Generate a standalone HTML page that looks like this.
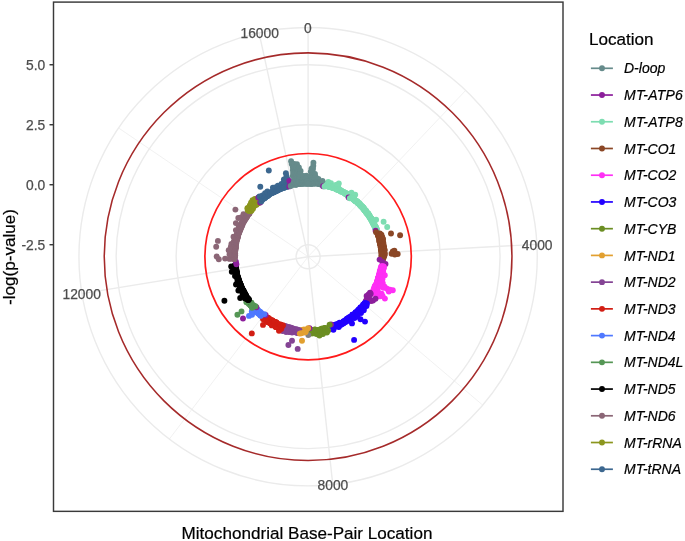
<!DOCTYPE html>
<html><head><meta charset="utf-8"><title>Mitochondrial plot</title>
<style>html,body{margin:0;padding:0;background:#fff}body{width:685px;height:541px;overflow:hidden}</style></head>
<body>
<svg width="685" height="541" viewBox="0 0 685 541" style="display:block">
<rect width="685" height="541" fill="#fff"/>
<g fill="none" stroke="#EBEBEB"><circle cx="308.1" cy="256.7" r="12.00" stroke-width="1.4"/><circle cx="308.1" cy="256.7" r="71.98" stroke-width="1.4"/><circle cx="308.1" cy="256.7" r="131.97" stroke-width="1.4"/><circle cx="308.1" cy="256.7" r="191.95" stroke-width="1.4"/><circle cx="308.1" cy="256.7" r="229.16" stroke-width="1.4"/><line x1="308.1" y1="256.7" x2="308.10" y2="27.54" stroke-width="1.4"/><line x1="308.1" y1="256.7" x2="536.93" y2="244.34" stroke-width="1.4"/><line x1="308.1" y1="256.7" x2="332.78" y2="484.53" stroke-width="1.4"/><line x1="308.1" y1="256.7" x2="81.93" y2="293.62" stroke-width="1.4"/><line x1="308.1" y1="256.7" x2="259.04" y2="32.85" stroke-width="1.4"/><line x1="308.1" y1="256.7" x2="465.71" y2="90.35" stroke-width="0.7"/><line x1="308.1" y1="256.7" x2="482.71" y2="405.11" stroke-width="0.7"/><line x1="308.1" y1="256.7" x2="169.32" y2="439.06" stroke-width="0.7"/><line x1="308.1" y1="256.7" x2="118.52" y2="127.95" stroke-width="0.7"/></g>
<g>
<g fill="#668B8B">
<circle cx="308.2" cy="183.3" r="2.95"/>
<circle cx="308.5" cy="183.6" r="2.95"/>
<circle cx="308.8" cy="182.7" r="2.95"/>
<circle cx="308.9" cy="182.3" r="2.95"/>
<circle cx="309.0" cy="179.0" r="2.95"/>
<circle cx="308.4" cy="182.0" r="2.95"/>
<circle cx="309.2" cy="182.5" r="2.95"/>
<circle cx="309.4" cy="183.5" r="2.95"/>
<circle cx="309.8" cy="181.4" r="2.95"/>
<circle cx="309.9" cy="183.1" r="2.95"/>
<circle cx="310.4" cy="181.1" r="2.95"/>
<circle cx="310.6" cy="182.7" r="2.95"/>
<circle cx="311.5" cy="168.6" r="2.95"/>
<circle cx="310.8" cy="171.6" r="2.95"/>
<circle cx="312.0" cy="174.6" r="2.95"/>
<circle cx="311.1" cy="177.6" r="2.95"/>
<circle cx="311.7" cy="180.6" r="2.95"/>
<circle cx="310.1" cy="183.6" r="2.95"/>
<circle cx="310.9" cy="183.7" r="2.95"/>
<circle cx="311.2" cy="183.0" r="2.95"/>
<circle cx="311.2" cy="183.5" r="2.95"/>
<circle cx="311.6" cy="181.5" r="2.95"/>
<circle cx="311.8" cy="182.2" r="2.95"/>
<circle cx="312.1" cy="182.8" r="2.95"/>
<circle cx="313.4" cy="162.8" r="2.95"/>
<circle cx="313.3" cy="165.8" r="2.95"/>
<circle cx="313.0" cy="168.8" r="2.95"/>
<circle cx="312.6" cy="171.8" r="2.95"/>
<circle cx="312.1" cy="174.7" r="2.95"/>
<circle cx="312.3" cy="177.8" r="2.95"/>
<circle cx="311.8" cy="180.7" r="2.95"/>
<circle cx="311.5" cy="183.7" r="2.95"/>
<circle cx="312.3" cy="183.7" r="2.95"/>
<circle cx="312.5" cy="183.3" r="2.95"/>
<circle cx="312.9" cy="182.7" r="2.95"/>
<circle cx="313.1" cy="182.2" r="2.95"/>
<circle cx="313.3" cy="183.1" r="2.95"/>
<circle cx="313.8" cy="182.0" r="2.95"/>
<circle cx="313.9" cy="182.3" r="2.95"/>
<circle cx="314.3" cy="181.5" r="2.95"/>
<circle cx="315.0" cy="173.9" r="2.95"/>
<circle cx="315.6" cy="177.0" r="2.95"/>
<circle cx="314.4" cy="179.9" r="2.95"/>
<circle cx="314.7" cy="182.9" r="2.95"/>
<circle cx="314.4" cy="183.2" r="2.95"/>
<circle cx="314.7" cy="183.7" r="2.95"/>
<circle cx="315.0" cy="181.9" r="2.95"/>
<circle cx="315.1" cy="182.7" r="2.95"/>
<circle cx="315.4" cy="182.2" r="2.95"/>
<circle cx="315.8" cy="182.5" r="2.95"/>
<circle cx="316.0" cy="183.3" r="2.95"/>
<circle cx="316.3" cy="182.5" r="2.95"/>
<circle cx="316.5" cy="182.9" r="2.95"/>
<circle cx="317.0" cy="181.6" r="2.95"/>
<circle cx="317.0" cy="182.4" r="2.95"/>
<circle cx="317.2" cy="182.3" r="2.95"/>
<circle cx="317.7" cy="181.5" r="2.95"/>
<circle cx="317.8" cy="183.6" r="2.95"/>
<circle cx="318.4" cy="179.0" r="2.95"/>
<circle cx="318.2" cy="182.0" r="2.95"/>
<circle cx="318.0" cy="182.5" r="2.95"/>
<circle cx="318.1" cy="183.1" r="2.95"/>
<circle cx="318.3" cy="184.1" r="2.95"/>
<circle cx="318.8" cy="182.3" r="2.95"/>
<circle cx="318.8" cy="183.8" r="2.95"/>
<circle cx="319.4" cy="182.1" r="2.95"/>
<circle cx="319.4" cy="183.3" r="2.95"/>
<circle cx="320.0" cy="182.2" r="2.95"/>
<circle cx="320.3" cy="182.3" r="2.95"/>
<circle cx="320.2" cy="183.6" r="2.95"/>
<circle cx="320.7" cy="182.3" r="2.95"/>
<circle cx="320.8" cy="184.4" r="2.95"/>
<circle cx="320.8" cy="184.2" r="2.95"/>
<circle cx="321.2" cy="183.5" r="2.95"/>
<circle cx="321.5" cy="184.2" r="2.95"/>
<circle cx="321.7" cy="183.8" r="2.95"/>
<circle cx="322.5" cy="180.9" r="2.95"/>
<circle cx="322.3" cy="183.9" r="2.95"/>
<circle cx="322.1" cy="183.5" r="2.95"/>
<circle cx="322.5" cy="183.2" r="2.95"/>
<circle cx="322.7" cy="183.4" r="2.95"/>
<circle cx="322.6" cy="185.1" r="2.95"/>
<circle cx="323.3" cy="183.1" r="2.95"/>
</g>
<g fill="#8C1E9B">
<circle cx="323.1" cy="186.2" r="2.95"/>
</g>
<g fill="#7DDDB1">
<circle cx="324.5" cy="186.5" r="2.95"/>
<circle cx="325.9" cy="185.8" r="2.95"/>
<circle cx="326.2" cy="186.0" r="2.95"/>
<circle cx="326.4" cy="185.9" r="2.95"/>
<circle cx="326.7" cy="185.8" r="2.95"/>
<circle cx="327.1" cy="185.3" r="2.95"/>
<circle cx="328.3" cy="182.0" r="2.95"/>
<circle cx="327.0" cy="184.8" r="2.95"/>
<circle cx="327.2" cy="186.2" r="2.95"/>
<circle cx="327.5" cy="186.0" r="2.95"/>
<circle cx="327.7" cy="186.3" r="2.95"/>
<circle cx="328.3" cy="185.5" r="2.95"/>
<circle cx="328.3" cy="186.1" r="2.95"/>
<circle cx="328.3" cy="186.5" r="2.95"/>
<circle cx="328.7" cy="186.4" r="2.95"/>
<circle cx="329.0" cy="186.6" r="2.95"/>
<circle cx="329.3" cy="185.8" r="2.95"/>
<circle cx="329.4" cy="186.8" r="2.95"/>
<circle cx="329.6" cy="187.0" r="2.95"/>
<circle cx="331.0" cy="183.3" r="2.95"/>
<circle cx="330.2" cy="186.2" r="2.95"/>
<circle cx="330.2" cy="186.1" r="2.95"/>
<circle cx="330.4" cy="186.5" r="2.95"/>
<circle cx="330.4" cy="186.8" r="2.95"/>
<circle cx="330.7" cy="186.5" r="2.95"/>
<circle cx="331.1" cy="186.6" r="2.95"/>
<circle cx="331.1" cy="187.2" r="2.95"/>
<circle cx="331.7" cy="186.6" r="2.95"/>
<circle cx="331.9" cy="186.8" r="2.95"/>
<circle cx="332.1" cy="187.0" r="2.95"/>
<circle cx="332.1" cy="187.2" r="2.95"/>
<circle cx="332.2" cy="187.8" r="2.95"/>
<circle cx="332.4" cy="187.6" r="2.95"/>
<circle cx="332.9" cy="187.3" r="2.95"/>
<circle cx="333.2" cy="187.7" r="2.95"/>
<circle cx="333.6" cy="187.2" r="2.95"/>
<circle cx="333.6" cy="188.0" r="2.95"/>
<circle cx="333.7" cy="188.1" r="2.95"/>
<circle cx="333.9" cy="188.2" r="2.95"/>
<circle cx="334.5" cy="187.7" r="2.95"/>
<circle cx="335.8" cy="185.0" r="2.95"/>
<circle cx="334.0" cy="187.5" r="2.95"/>
<circle cx="334.6" cy="188.2" r="2.95"/>
<circle cx="334.9" cy="187.9" r="2.95"/>
<circle cx="335.0" cy="188.1" r="2.95"/>
<circle cx="335.4" cy="188.2" r="2.95"/>
<circle cx="335.5" cy="188.6" r="2.95"/>
<circle cx="335.7" cy="188.3" r="2.95"/>
<circle cx="336.0" cy="188.4" r="2.95"/>
<circle cx="336.2" cy="188.9" r="2.95"/>
<circle cx="336.6" cy="188.4" r="2.95"/>
<circle cx="338.8" cy="183.4" r="2.95"/>
<circle cx="338.1" cy="186.3" r="2.95"/>
<circle cx="336.8" cy="189.0" r="2.95"/>
<circle cx="336.6" cy="189.3" r="2.95"/>
<circle cx="336.6" cy="189.4" r="2.95"/>
<circle cx="337.3" cy="188.9" r="2.95"/>
<circle cx="337.4" cy="188.9" r="2.95"/>
<circle cx="337.7" cy="189.3" r="2.95"/>
<circle cx="337.8" cy="189.4" r="2.95"/>
<circle cx="337.7" cy="190.0" r="2.95"/>
<circle cx="338.4" cy="189.6" r="2.95"/>
<circle cx="338.7" cy="189.4" r="2.95"/>
<circle cx="338.9" cy="189.5" r="2.95"/>
<circle cx="338.9" cy="190.3" r="2.95"/>
<circle cx="339.0" cy="190.3" r="2.95"/>
<circle cx="339.4" cy="190.1" r="2.95"/>
<circle cx="339.5" cy="190.4" r="2.95"/>
<circle cx="340.0" cy="190.0" r="2.95"/>
<circle cx="340.0" cy="190.6" r="2.95"/>
<circle cx="340.5" cy="190.3" r="2.95"/>
<circle cx="340.7" cy="190.4" r="2.95"/>
<circle cx="340.8" cy="190.9" r="2.95"/>
<circle cx="340.8" cy="191.5" r="2.95"/>
<circle cx="341.1" cy="191.4" r="2.95"/>
<circle cx="341.5" cy="190.9" r="2.95"/>
<circle cx="341.6" cy="191.3" r="2.95"/>
<circle cx="342.0" cy="191.4" r="2.95"/>
<circle cx="342.1" cy="191.5" r="2.95"/>
<circle cx="342.5" cy="191.4" r="2.95"/>
<circle cx="342.5" cy="191.7" r="2.95"/>
<circle cx="342.6" cy="192.1" r="2.95"/>
<circle cx="343.1" cy="192.1" r="2.95"/>
<circle cx="343.4" cy="191.9" r="2.95"/>
<circle cx="343.5" cy="192.4" r="2.95"/>
<circle cx="343.7" cy="192.4" r="2.95"/>
<circle cx="344.0" cy="192.4" r="2.95"/>
<circle cx="344.1" cy="192.6" r="2.95"/>
<circle cx="344.6" cy="192.4" r="2.95"/>
<circle cx="344.8" cy="192.6" r="2.95"/>
<circle cx="344.8" cy="193.3" r="2.95"/>
<circle cx="345.3" cy="192.8" r="2.95"/>
<circle cx="345.1" cy="193.7" r="2.95"/>
<circle cx="345.3" cy="193.4" r="2.95"/>
<circle cx="345.4" cy="193.7" r="2.95"/>
<circle cx="345.9" cy="193.5" r="2.95"/>
<circle cx="346.4" cy="193.5" r="2.95"/>
<circle cx="346.4" cy="193.7" r="2.95"/>
<circle cx="346.4" cy="194.4" r="2.95"/>
<circle cx="347.1" cy="193.8" r="2.95"/>
<circle cx="347.2" cy="193.9" r="2.95"/>
<circle cx="347.1" cy="194.5" r="2.95"/>
<circle cx="347.7" cy="194.4" r="2.95"/>
<circle cx="347.5" cy="194.8" r="2.95"/>
<circle cx="347.7" cy="195.0" r="2.95"/>
<circle cx="347.9" cy="195.1" r="2.95"/>
<circle cx="348.0" cy="195.6" r="2.95"/>
<circle cx="348.4" cy="195.4" r="2.95"/>
<circle cx="348.5" cy="195.5" r="2.95"/>
<circle cx="348.9" cy="195.6" r="2.95"/>
<circle cx="349.3" cy="195.2" r="2.95"/>
<circle cx="351.5" cy="192.6" r="2.95"/>
<circle cx="349.5" cy="194.8" r="2.95"/>
</g>
<g fill="#8C1E9B">
<circle cx="348.6" cy="197.5" r="2.95"/>
</g>
<g fill="#7DDDB1">
<circle cx="349.8" cy="198.3" r="2.95"/>
<circle cx="352.0" cy="197.2" r="2.95"/>
<circle cx="351.8" cy="198.0" r="2.95"/>
<circle cx="352.3" cy="197.4" r="2.95"/>
<circle cx="352.5" cy="197.8" r="2.95"/>
<circle cx="352.1" cy="198.5" r="2.95"/>
<circle cx="355.2" cy="194.8" r="2.95"/>
<circle cx="353.5" cy="197.3" r="2.95"/>
<circle cx="352.7" cy="198.4" r="2.95"/>
<circle cx="353.1" cy="198.0" r="2.95"/>
<circle cx="353.3" cy="198.4" r="2.95"/>
<circle cx="353.5" cy="198.4" r="2.95"/>
<circle cx="353.7" cy="198.6" r="2.95"/>
<circle cx="353.6" cy="199.2" r="2.95"/>
<circle cx="354.2" cy="198.9" r="2.95"/>
<circle cx="353.8" cy="199.7" r="2.95"/>
<circle cx="354.1" cy="199.8" r="2.95"/>
<circle cx="354.2" cy="199.9" r="2.95"/>
<circle cx="354.4" cy="200.0" r="2.95"/>
<circle cx="354.7" cy="200.2" r="2.95"/>
<circle cx="355.0" cy="200.4" r="2.95"/>
<circle cx="355.0" cy="200.6" r="2.95"/>
<circle cx="355.1" cy="200.9" r="2.95"/>
<circle cx="355.3" cy="201.0" r="2.95"/>
<circle cx="355.9" cy="200.8" r="2.95"/>
<circle cx="355.9" cy="201.0" r="2.95"/>
<circle cx="356.0" cy="201.6" r="2.95"/>
<circle cx="356.4" cy="201.4" r="2.95"/>
<circle cx="356.8" cy="201.2" r="2.95"/>
<circle cx="356.8" cy="201.6" r="2.95"/>
<circle cx="357.4" cy="201.5" r="2.95"/>
<circle cx="357.4" cy="201.7" r="2.95"/>
<circle cx="357.5" cy="202.1" r="2.95"/>
<circle cx="357.4" cy="202.4" r="2.95"/>
<circle cx="357.4" cy="202.7" r="2.95"/>
<circle cx="358.0" cy="202.4" r="2.95"/>
<circle cx="357.8" cy="203.1" r="2.95"/>
<circle cx="358.4" cy="202.7" r="2.95"/>
<circle cx="358.6" cy="203.1" r="2.95"/>
<circle cx="358.4" cy="203.5" r="2.95"/>
<circle cx="358.7" cy="203.5" r="2.95"/>
<circle cx="358.9" cy="203.7" r="2.95"/>
<circle cx="359.5" cy="203.5" r="2.95"/>
<circle cx="359.5" cy="204.1" r="2.95"/>
<circle cx="359.8" cy="203.8" r="2.95"/>
<circle cx="359.6" cy="204.5" r="2.95"/>
<circle cx="359.7" cy="204.6" r="2.95"/>
<circle cx="360.1" cy="204.7" r="2.95"/>
<circle cx="360.2" cy="204.9" r="2.95"/>
<circle cx="360.2" cy="205.2" r="2.95"/>
<circle cx="360.5" cy="205.3" r="2.95"/>
<circle cx="360.3" cy="205.7" r="2.95"/>
<circle cx="360.7" cy="205.8" r="2.95"/>
<circle cx="361.2" cy="205.8" r="2.95"/>
<circle cx="361.5" cy="205.9" r="2.95"/>
<circle cx="361.8" cy="206.0" r="2.95"/>
<circle cx="361.5" cy="206.5" r="2.95"/>
<circle cx="361.6" cy="206.9" r="2.95"/>
<circle cx="362.1" cy="206.7" r="2.95"/>
<circle cx="362.3" cy="206.6" r="2.95"/>
<circle cx="362.5" cy="207.1" r="2.95"/>
<circle cx="362.8" cy="207.1" r="2.95"/>
<circle cx="362.6" cy="207.4" r="2.95"/>
<circle cx="363.1" cy="207.4" r="2.95"/>
<circle cx="363.3" cy="207.7" r="2.95"/>
<circle cx="363.5" cy="207.8" r="2.95"/>
<circle cx="363.5" cy="208.1" r="2.95"/>
<circle cx="363.1" cy="208.7" r="2.95"/>
<circle cx="363.5" cy="208.6" r="2.95"/>
<circle cx="364.0" cy="208.5" r="2.95"/>
<circle cx="364.1" cy="208.9" r="2.95"/>
<circle cx="364.3" cy="209.1" r="2.95"/>
<circle cx="363.9" cy="209.7" r="2.95"/>
<circle cx="364.7" cy="209.5" r="2.95"/>
<circle cx="364.7" cy="209.7" r="2.95"/>
<circle cx="364.5" cy="210.3" r="2.95"/>
<circle cx="364.8" cy="210.4" r="2.95"/>
<circle cx="364.8" cy="210.4" r="2.95"/>
<circle cx="365.1" cy="210.8" r="2.95"/>
<circle cx="365.9" cy="210.5" r="2.95"/>
<circle cx="365.5" cy="211.0" r="2.95"/>
<circle cx="365.9" cy="211.0" r="2.95"/>
<circle cx="366.0" cy="211.3" r="2.95"/>
<circle cx="365.7" cy="211.8" r="2.95"/>
<circle cx="365.9" cy="211.8" r="2.95"/>
<circle cx="366.2" cy="212.1" r="2.95"/>
<circle cx="366.1" cy="212.4" r="2.95"/>
<circle cx="366.4" cy="212.4" r="2.95"/>
<circle cx="367.0" cy="212.4" r="2.95"/>
<circle cx="366.8" cy="212.9" r="2.95"/>
<circle cx="367.1" cy="212.9" r="2.95"/>
<circle cx="366.9" cy="213.4" r="2.95"/>
<circle cx="367.2" cy="213.6" r="2.95"/>
<circle cx="368.0" cy="213.3" r="2.95"/>
<circle cx="367.6" cy="213.7" r="2.95"/>
<circle cx="368.3" cy="213.7" r="2.95"/>
<circle cx="367.8" cy="214.3" r="2.95"/>
<circle cx="368.5" cy="214.0" r="2.95"/>
<circle cx="368.3" cy="214.4" r="2.95"/>
<circle cx="368.4" cy="214.7" r="2.95"/>
<circle cx="368.3" cy="215.3" r="2.95"/>
<circle cx="368.8" cy="215.2" r="2.95"/>
<circle cx="369.1" cy="215.3" r="2.95"/>
<circle cx="369.3" cy="215.3" r="2.95"/>
<circle cx="368.7" cy="216.1" r="2.95"/>
<circle cx="369.2" cy="215.9" r="2.95"/>
<circle cx="369.2" cy="216.3" r="2.95"/>
<circle cx="369.4" cy="216.4" r="2.95"/>
<circle cx="370.0" cy="216.4" r="2.95"/>
<circle cx="370.0" cy="216.6" r="2.95"/>
<circle cx="369.7" cy="217.3" r="2.95"/>
<circle cx="370.3" cy="217.2" r="2.95"/>
<circle cx="370.1" cy="217.7" r="2.95"/>
<circle cx="370.3" cy="217.7" r="2.95"/>
<circle cx="370.6" cy="218.0" r="2.95"/>
<circle cx="370.5" cy="218.1" r="2.95"/>
<circle cx="370.3" cy="218.5" r="2.95"/>
<circle cx="371.1" cy="218.3" r="2.95"/>
<circle cx="371.4" cy="218.5" r="2.95"/>
<circle cx="370.9" cy="219.0" r="2.95"/>
<circle cx="371.0" cy="219.4" r="2.95"/>
<circle cx="371.8" cy="219.1" r="2.95"/>
<circle cx="371.9" cy="219.5" r="2.95"/>
<circle cx="372.1" cy="219.6" r="2.95"/>
<circle cx="371.9" cy="220.1" r="2.95"/>
<circle cx="371.5" cy="220.6" r="2.95"/>
<circle cx="372.0" cy="220.6" r="2.95"/>
<circle cx="372.3" cy="220.7" r="2.95"/>
<circle cx="371.8" cy="221.1" r="2.95"/>
<circle cx="372.1" cy="221.4" r="2.95"/>
<circle cx="372.4" cy="221.4" r="2.95"/>
<circle cx="372.8" cy="221.4" r="2.95"/>
<circle cx="376.1" cy="219.7" r="2.95"/>
<circle cx="372.6" cy="222.0" r="2.95"/>
<circle cx="372.7" cy="222.2" r="2.95"/>
<circle cx="372.9" cy="222.3" r="2.95"/>
<circle cx="372.8" cy="222.6" r="2.95"/>
<circle cx="373.6" cy="222.4" r="2.95"/>
<circle cx="373.1" cy="223.1" r="2.95"/>
<circle cx="374.0" cy="223.0" r="2.95"/>
<circle cx="373.2" cy="223.5" r="2.95"/>
<circle cx="373.3" cy="223.7" r="2.95"/>
<circle cx="373.4" cy="224.0" r="2.95"/>
<circle cx="373.7" cy="224.1" r="2.95"/>
<circle cx="374.4" cy="224.1" r="2.95"/>
<circle cx="374.1" cy="224.6" r="2.95"/>
<circle cx="374.3" cy="224.7" r="2.95"/>
<circle cx="374.2" cy="225.0" r="2.95"/>
<circle cx="374.2" cy="225.2" r="2.95"/>
<circle cx="374.3" cy="225.7" r="2.95"/>
<circle cx="374.8" cy="225.6" r="2.95"/>
<circle cx="383.6" cy="221.8" r="2.95"/>
<circle cx="374.5" cy="226.1" r="2.95"/>
<circle cx="374.6" cy="226.1" r="2.95"/>
<circle cx="374.9" cy="226.3" r="2.95"/>
<circle cx="375.5" cy="226.5" r="2.95"/>
<circle cx="374.8" cy="227.1" r="2.95"/>
<circle cx="375.5" cy="226.8" r="2.95"/>
<circle cx="375.4" cy="227.3" r="2.95"/>
<circle cx="375.0" cy="227.7" r="2.95"/>
<circle cx="376.0" cy="227.5" r="2.95"/>
<circle cx="376.1" cy="227.8" r="2.95"/>
<circle cx="375.6" cy="228.4" r="2.95"/>
<circle cx="375.5" cy="228.4" r="2.95"/>
<circle cx="376.2" cy="228.5" r="2.95"/>
<circle cx="376.4" cy="228.8" r="2.95"/>
<circle cx="376.5" cy="229.0" r="2.95"/>
<circle cx="376.3" cy="229.3" r="2.95"/>
<circle cx="376.6" cy="229.3" r="2.95"/>
<circle cx="376.9" cy="229.5" r="2.95"/>
<circle cx="376.4" cy="230.1" r="2.95"/>
</g>
<g fill="#8C1E9B">
<circle cx="375.6" cy="230.8" r="2.95"/>
</g>
<g fill="#7DDDB1">
<circle cx="387.2" cy="227.0" r="2.95"/>
</g>
<g fill="#8B4726">
<circle cx="376.1" cy="232.2" r="2.95"/>
<circle cx="379.8" cy="233.4" r="2.95"/>
<circle cx="379.3" cy="233.9" r="2.95"/>
<circle cx="378.5" cy="234.2" r="2.95"/>
<circle cx="380.3" cy="234.1" r="2.95"/>
<circle cx="377.8" cy="235.0" r="2.95"/>
<circle cx="380.3" cy="234.5" r="2.95"/>
<circle cx="378.8" cy="235.2" r="2.95"/>
<circle cx="381.4" cy="234.8" r="2.95"/>
<circle cx="378.1" cy="235.9" r="2.95"/>
<circle cx="379.7" cy="235.8" r="2.95"/>
<circle cx="378.9" cy="236.3" r="2.95"/>
<circle cx="381.0" cy="236.0" r="2.95"/>
<circle cx="379.1" cy="236.7" r="2.95"/>
<circle cx="391.0" cy="233.5" r="2.95"/>
<circle cx="379.6" cy="237.0" r="2.95"/>
<circle cx="379.3" cy="237.3" r="2.95"/>
<circle cx="381.3" cy="236.9" r="2.95"/>
<circle cx="382.1" cy="236.9" r="2.95"/>
<circle cx="379.3" cy="238.0" r="2.95"/>
<circle cx="380.2" cy="237.9" r="2.95"/>
<circle cx="382.3" cy="237.8" r="2.95"/>
<circle cx="380.3" cy="238.4" r="2.95"/>
<circle cx="382.5" cy="238.2" r="2.95"/>
<circle cx="379.1" cy="239.2" r="2.95"/>
<circle cx="380.5" cy="239.2" r="2.95"/>
<circle cx="382.4" cy="239.2" r="2.95"/>
<circle cx="400.1" cy="235.2" r="2.95"/>
<circle cx="382.9" cy="239.3" r="2.95"/>
<circle cx="380.4" cy="240.2" r="2.95"/>
<circle cx="382.7" cy="239.7" r="2.95"/>
<circle cx="379.4" cy="240.9" r="2.95"/>
<circle cx="380.8" cy="240.8" r="2.95"/>
<circle cx="380.6" cy="241.0" r="2.95"/>
<circle cx="379.4" cy="241.5" r="2.95"/>
<circle cx="380.8" cy="241.5" r="2.95"/>
<circle cx="380.0" cy="242.1" r="2.95"/>
<circle cx="380.4" cy="242.2" r="2.95"/>
<circle cx="382.7" cy="241.9" r="2.95"/>
<circle cx="381.3" cy="242.5" r="2.95"/>
<circle cx="381.5" cy="242.6" r="2.95"/>
<circle cx="383.3" cy="242.6" r="2.95"/>
<circle cx="381.2" cy="243.2" r="2.95"/>
<circle cx="380.0" cy="243.8" r="2.95"/>
<circle cx="383.0" cy="243.4" r="2.95"/>
<circle cx="380.1" cy="244.3" r="2.95"/>
<circle cx="380.2" cy="244.3" r="2.95"/>
<circle cx="381.0" cy="244.7" r="2.95"/>
<circle cx="383.5" cy="244.5" r="2.95"/>
<circle cx="381.2" cy="245.0" r="2.95"/>
<circle cx="382.5" cy="245.2" r="2.95"/>
<circle cx="382.9" cy="245.3" r="2.95"/>
<circle cx="381.3" cy="245.8" r="2.95"/>
<circle cx="383.1" cy="245.7" r="2.95"/>
<circle cx="382.7" cy="246.2" r="2.95"/>
<circle cx="380.5" cy="246.8" r="2.95"/>
<circle cx="382.2" cy="246.6" r="2.95"/>
<circle cx="384.1" cy="246.8" r="2.95"/>
<circle cx="381.4" cy="247.3" r="2.95"/>
<circle cx="382.4" cy="247.4" r="2.95"/>
<circle cx="381.2" cy="248.0" r="2.95"/>
<circle cx="383.4" cy="247.9" r="2.95"/>
<circle cx="383.5" cy="248.2" r="2.95"/>
<circle cx="381.9" cy="248.6" r="2.95"/>
<circle cx="382.0" cy="248.7" r="2.95"/>
<circle cx="381.0" cy="249.2" r="2.95"/>
<circle cx="383.5" cy="249.1" r="2.95"/>
<circle cx="380.9" cy="249.6" r="2.95"/>
<circle cx="382.8" cy="249.6" r="2.95"/>
<circle cx="384.5" cy="249.8" r="2.95"/>
<circle cx="384.6" cy="250.2" r="2.95"/>
<circle cx="381.1" cy="250.6" r="2.95"/>
<circle cx="382.7" cy="250.7" r="2.95"/>
<circle cx="382.5" cy="251.1" r="2.95"/>
<circle cx="382.4" cy="251.2" r="2.95"/>
<circle cx="394.4" cy="250.7" r="2.95"/>
<circle cx="383.5" cy="251.5" r="2.95"/>
<circle cx="384.1" cy="251.8" r="2.95"/>
<circle cx="381.4" cy="252.2" r="2.95"/>
<circle cx="392.8" cy="251.5" r="2.95"/>
<circle cx="382.0" cy="252.4" r="2.95"/>
<circle cx="382.4" cy="252.6" r="2.95"/>
<circle cx="381.7" cy="252.9" r="2.95"/>
<circle cx="381.9" cy="253.1" r="2.95"/>
<circle cx="384.4" cy="253.2" r="2.95"/>
<circle cx="382.2" cy="253.6" r="2.95"/>
<circle cx="384.8" cy="253.7" r="2.95"/>
<circle cx="381.9" cy="254.1" r="2.95"/>
<circle cx="391.6" cy="253.8" r="2.95"/>
<circle cx="383.5" cy="254.4" r="2.95"/>
<circle cx="397.7" cy="254.0" r="2.95"/>
<circle cx="381.4" cy="254.8" r="2.95"/>
<circle cx="384.2" cy="254.8" r="2.95"/>
<circle cx="394.8" cy="254.6" r="2.95"/>
<circle cx="384.5" cy="255.2" r="2.95"/>
<circle cx="382.2" cy="255.3" r="2.95"/>
<circle cx="381.8" cy="255.5" r="2.95"/>
<circle cx="383.3" cy="256.0" r="2.95"/>
<circle cx="382.5" cy="256.2" r="2.95"/>
<circle cx="382.8" cy="256.5" r="2.95"/>
<circle cx="384.0" cy="256.6" r="2.95"/>
<circle cx="381.4" cy="257.0" r="2.95"/>
<circle cx="383.4" cy="257.2" r="2.95"/>
<circle cx="382.5" cy="257.3" r="2.95"/>
<circle cx="381.8" cy="257.6" r="2.95"/>
<circle cx="383.3" cy="257.9" r="2.95"/>
<circle cx="381.8" cy="258.2" r="2.95"/>
<circle cx="382.3" cy="258.3" r="2.95"/>
<circle cx="381.7" cy="258.7" r="2.95"/>
<circle cx="381.8" cy="258.9" r="2.95"/>
<circle cx="383.1" cy="259.3" r="2.95"/>
<circle cx="381.4" cy="259.3" r="2.95"/>
</g>
<g fill="#8C1E9B">
<circle cx="379.6" cy="259.6" r="2.95"/>
<circle cx="382.5" cy="262.0" r="2.95"/>
<circle cx="385.5" cy="263.9" r="2.95"/>
</g>
<g fill="#FF30F5">
<circle cx="383.0" cy="266.1" r="2.95"/>
<circle cx="381.4" cy="266.2" r="2.95"/>
<circle cx="383.8" cy="266.8" r="2.95"/>
<circle cx="382.4" cy="266.8" r="2.95"/>
<circle cx="381.8" cy="267.0" r="2.95"/>
<circle cx="383.8" cy="267.7" r="2.95"/>
<circle cx="381.0" cy="267.4" r="2.95"/>
<circle cx="380.9" cy="267.8" r="2.95"/>
<circle cx="383.4" cy="268.2" r="2.95"/>
<circle cx="383.1" cy="268.5" r="2.95"/>
<circle cx="383.2" cy="268.8" r="2.95"/>
<circle cx="380.6" cy="268.7" r="2.95"/>
<circle cx="382.0" cy="269.0" r="2.95"/>
<circle cx="383.2" cy="269.7" r="2.95"/>
<circle cx="382.2" cy="269.6" r="2.95"/>
<circle cx="381.7" cy="269.9" r="2.95"/>
<circle cx="380.9" cy="269.9" r="2.95"/>
<circle cx="383.1" cy="270.7" r="2.95"/>
<circle cx="381.5" cy="270.5" r="2.95"/>
<circle cx="383.1" cy="271.3" r="2.95"/>
<circle cx="380.1" cy="270.8" r="2.95"/>
<circle cx="383.0" cy="271.9" r="2.95"/>
<circle cx="379.8" cy="271.3" r="2.95"/>
<circle cx="380.9" cy="271.9" r="2.95"/>
<circle cx="381.6" cy="272.4" r="2.95"/>
<circle cx="380.0" cy="272.2" r="2.95"/>
<circle cx="380.1" cy="272.5" r="2.95"/>
<circle cx="382.3" cy="273.2" r="2.95"/>
<circle cx="379.9" cy="273.0" r="2.95"/>
<circle cx="380.6" cy="273.3" r="2.95"/>
<circle cx="380.5" cy="273.6" r="2.95"/>
<circle cx="380.0" cy="273.6" r="2.95"/>
<circle cx="384.8" cy="275.2" r="2.95"/>
<circle cx="381.7" cy="275.3" r="2.95"/>
<circle cx="382.1" cy="274.6" r="2.95"/>
<circle cx="381.0" cy="274.4" r="2.95"/>
<circle cx="379.0" cy="274.3" r="2.95"/>
<circle cx="379.2" cy="274.7" r="2.95"/>
<circle cx="380.7" cy="275.2" r="2.95"/>
<circle cx="379.8" cy="275.3" r="2.95"/>
<circle cx="380.7" cy="275.7" r="2.95"/>
<circle cx="380.9" cy="276.0" r="2.95"/>
<circle cx="380.1" cy="276.1" r="2.95"/>
<circle cx="380.6" cy="276.4" r="2.95"/>
<circle cx="379.2" cy="276.4" r="2.95"/>
<circle cx="381.0" cy="277.2" r="2.95"/>
<circle cx="378.9" cy="276.8" r="2.95"/>
<circle cx="378.6" cy="277.0" r="2.95"/>
<circle cx="379.6" cy="277.5" r="2.95"/>
<circle cx="379.6" cy="277.7" r="2.95"/>
<circle cx="382.5" cy="278.9" r="2.95"/>
<circle cx="379.9" cy="277.3" r="2.95"/>
<circle cx="378.1" cy="277.7" r="2.95"/>
<circle cx="378.2" cy="278.0" r="2.95"/>
<circle cx="380.5" cy="279.0" r="2.95"/>
<circle cx="377.9" cy="278.4" r="2.95"/>
<circle cx="379.0" cy="279.0" r="2.95"/>
<circle cx="378.0" cy="279.1" r="2.95"/>
<circle cx="380.9" cy="280.2" r="2.95"/>
<circle cx="380.2" cy="280.3" r="2.95"/>
<circle cx="380.8" cy="280.6" r="2.95"/>
<circle cx="380.6" cy="280.8" r="2.95"/>
<circle cx="377.7" cy="280.3" r="2.95"/>
<circle cx="380.3" cy="281.4" r="2.95"/>
<circle cx="378.3" cy="280.8" r="2.95"/>
<circle cx="377.5" cy="281.0" r="2.95"/>
<circle cx="382.8" cy="283.1" r="2.95"/>
<circle cx="380.3" cy="281.3" r="2.95"/>
<circle cx="377.1" cy="281.3" r="2.95"/>
<circle cx="377.8" cy="281.4" r="2.95"/>
<circle cx="377.3" cy="281.4" r="2.95"/>
<circle cx="379.8" cy="282.5" r="2.95"/>
<circle cx="377.6" cy="281.9" r="2.95"/>
<circle cx="377.6" cy="282.3" r="2.95"/>
<circle cx="377.1" cy="282.2" r="2.95"/>
<circle cx="379.6" cy="283.5" r="2.95"/>
<circle cx="379.3" cy="283.8" r="2.95"/>
<circle cx="378.9" cy="283.8" r="2.95"/>
<circle cx="377.9" cy="283.7" r="2.95"/>
<circle cx="377.2" cy="283.8" r="2.95"/>
<circle cx="392.8" cy="290.3" r="2.95"/>
<circle cx="389.9" cy="289.6" r="2.95"/>
<circle cx="387.0" cy="288.7" r="2.95"/>
<circle cx="384.6" cy="286.7" r="2.95"/>
<circle cx="381.5" cy="286.4" r="2.95"/>
<circle cx="378.9" cy="284.7" r="2.95"/>
<circle cx="375.8" cy="284.4" r="2.95"/>
<circle cx="377.8" cy="284.3" r="2.95"/>
<circle cx="378.8" cy="285.0" r="2.95"/>
<circle cx="379.1" cy="285.2" r="2.95"/>
<circle cx="377.0" cy="284.8" r="2.95"/>
<circle cx="383.5" cy="287.8" r="2.95"/>
<circle cx="380.9" cy="286.2" r="2.95"/>
<circle cx="377.8" cy="285.9" r="2.95"/>
<circle cx="376.4" cy="284.9" r="2.95"/>
<circle cx="377.3" cy="285.6" r="2.95"/>
<circle cx="377.9" cy="285.9" r="2.95"/>
<circle cx="375.9" cy="285.4" r="2.95"/>
<circle cx="375.3" cy="285.5" r="2.95"/>
<circle cx="388.8" cy="291.6" r="2.95"/>
<circle cx="375.9" cy="286.0" r="2.95"/>
<circle cx="378.2" cy="287.3" r="2.95"/>
<circle cx="377.0" cy="287.0" r="2.95"/>
<circle cx="374.8" cy="286.3" r="2.95"/>
<circle cx="375.2" cy="286.6" r="2.95"/>
<circle cx="376.0" cy="287.4" r="2.95"/>
<circle cx="377.4" cy="288.3" r="2.95"/>
<circle cx="375.1" cy="287.5" r="2.95"/>
<circle cx="374.3" cy="287.5" r="2.95"/>
<circle cx="375.4" cy="288.1" r="2.95"/>
<circle cx="375.2" cy="288.3" r="2.95"/>
<circle cx="375.9" cy="289.0" r="2.95"/>
<circle cx="374.5" cy="288.7" r="2.95"/>
<circle cx="375.2" cy="289.3" r="2.95"/>
<circle cx="376.7" cy="290.2" r="2.95"/>
<circle cx="374.0" cy="289.2" r="2.95"/>
<circle cx="375.5" cy="290.2" r="2.95"/>
<circle cx="375.7" cy="290.8" r="2.95"/>
<circle cx="381.6" cy="293.8" r="2.95"/>
<circle cx="378.7" cy="292.7" r="2.95"/>
<circle cx="376.5" cy="290.5" r="2.95"/>
<circle cx="373.6" cy="289.5" r="2.95"/>
<circle cx="374.0" cy="290.1" r="2.95"/>
<circle cx="375.2" cy="290.9" r="2.95"/>
<circle cx="374.0" cy="290.7" r="2.95"/>
<circle cx="374.2" cy="291.1" r="2.95"/>
<circle cx="375.0" cy="291.9" r="2.95"/>
<circle cx="375.5" cy="292.3" r="2.95"/>
<circle cx="374.2" cy="291.8" r="2.95"/>
<circle cx="373.1" cy="291.6" r="2.95"/>
<circle cx="374.7" cy="292.7" r="2.95"/>
<circle cx="373.9" cy="292.5" r="2.95"/>
<circle cx="384.9" cy="298.6" r="2.95"/>
<circle cx="382.7" cy="296.3" r="2.95"/>
<circle cx="379.2" cy="296.4" r="2.95"/>
<circle cx="377.0" cy="294.1" r="2.95"/>
<circle cx="374.4" cy="292.7" r="2.95"/>
<circle cx="372.4" cy="292.2" r="2.95"/>
<circle cx="373.8" cy="293.1" r="2.95"/>
<circle cx="373.8" cy="293.5" r="2.95"/>
<circle cx="372.1" cy="292.9" r="2.95"/>
<circle cx="372.5" cy="293.3" r="2.95"/>
</g>
<g fill="#8C1E9B">
<circle cx="370.0" cy="292.7" r="2.95"/>
<circle cx="370.7" cy="293.7" r="2.95"/>
<circle cx="369.8" cy="295.2" r="2.95"/>
<circle cx="375.5" cy="298.8" r="2.95"/>
<circle cx="368.5" cy="294.5" r="2.95"/>
<circle cx="368.9" cy="296.7" r="2.95"/>
<circle cx="366.6" cy="296.0" r="2.95"/>
<circle cx="373.0" cy="300.5" r="2.95"/>
<circle cx="367.9" cy="298.1" r="2.95"/>
<circle cx="371.1" cy="301.0" r="2.95"/>
<circle cx="366.8" cy="299.6" r="2.95"/>
<circle cx="365.8" cy="300.9" r="2.95"/>
</g>
<g fill="#2200FF">
<circle cx="366.6" cy="303.4" r="2.95"/>
<circle cx="366.8" cy="303.7" r="2.95"/>
<circle cx="365.7" cy="303.4" r="2.95"/>
<circle cx="365.5" cy="303.6" r="2.95"/>
<circle cx="364.8" cy="303.1" r="2.95"/>
<circle cx="364.5" cy="303.2" r="2.95"/>
<circle cx="365.7" cy="304.6" r="2.95"/>
<circle cx="365.7" cy="305.0" r="2.95"/>
<circle cx="366.5" cy="306.0" r="2.95"/>
<circle cx="364.4" cy="304.2" r="2.95"/>
<circle cx="364.6" cy="304.7" r="2.95"/>
<circle cx="364.5" cy="305.1" r="2.95"/>
<circle cx="364.7" cy="305.3" r="2.95"/>
<circle cx="363.6" cy="304.9" r="2.95"/>
<circle cx="363.0" cy="304.8" r="2.95"/>
<circle cx="363.4" cy="305.2" r="2.95"/>
<circle cx="364.5" cy="306.7" r="2.95"/>
<circle cx="363.2" cy="305.8" r="2.95"/>
<circle cx="363.0" cy="306.1" r="2.95"/>
<circle cx="364.0" cy="307.2" r="2.95"/>
<circle cx="363.4" cy="307.0" r="2.95"/>
<circle cx="363.8" cy="307.7" r="2.95"/>
<circle cx="363.4" cy="307.6" r="2.95"/>
<circle cx="363.2" cy="307.9" r="2.95"/>
<circle cx="362.8" cy="307.8" r="2.95"/>
<circle cx="361.8" cy="307.3" r="2.95"/>
<circle cx="362.3" cy="308.0" r="2.95"/>
<circle cx="362.7" cy="308.6" r="2.95"/>
<circle cx="360.8" cy="307.2" r="2.95"/>
<circle cx="363.8" cy="310.2" r="2.95"/>
<circle cx="362.4" cy="309.1" r="2.95"/>
<circle cx="360.6" cy="307.8" r="2.95"/>
<circle cx="360.3" cy="307.8" r="2.95"/>
<circle cx="361.2" cy="309.2" r="2.95"/>
<circle cx="361.2" cy="309.5" r="2.95"/>
<circle cx="360.8" cy="309.3" r="2.95"/>
<circle cx="361.0" cy="310.0" r="2.95"/>
<circle cx="360.9" cy="310.4" r="2.95"/>
<circle cx="360.8" cy="310.4" r="2.95"/>
<circle cx="360.6" cy="310.9" r="2.95"/>
<circle cx="359.2" cy="309.5" r="2.95"/>
<circle cx="358.7" cy="309.4" r="2.95"/>
<circle cx="359.8" cy="311.1" r="2.95"/>
<circle cx="359.7" cy="311.3" r="2.95"/>
<circle cx="361.0" cy="313.0" r="2.95"/>
<circle cx="358.5" cy="310.4" r="2.95"/>
<circle cx="358.1" cy="310.2" r="2.95"/>
<circle cx="358.0" cy="310.6" r="2.95"/>
<circle cx="358.3" cy="311.2" r="2.95"/>
<circle cx="357.9" cy="311.0" r="2.95"/>
<circle cx="358.4" cy="312.1" r="2.95"/>
<circle cx="357.5" cy="311.5" r="2.95"/>
<circle cx="357.5" cy="312.1" r="2.95"/>
<circle cx="357.6" cy="312.5" r="2.95"/>
<circle cx="357.2" cy="312.1" r="2.95"/>
<circle cx="357.5" cy="313.1" r="2.95"/>
<circle cx="365.0" cy="321.6" r="2.95"/>
<circle cx="357.3" cy="313.1" r="2.95"/>
<circle cx="356.2" cy="312.3" r="2.95"/>
<circle cx="355.7" cy="312.3" r="2.95"/>
<circle cx="355.7" cy="312.6" r="2.95"/>
<circle cx="355.7" cy="312.7" r="2.95"/>
<circle cx="356.7" cy="314.5" r="2.95"/>
<circle cx="360.5" cy="319.2" r="2.95"/>
<circle cx="355.8" cy="313.6" r="2.95"/>
<circle cx="356.0" cy="314.5" r="2.95"/>
<circle cx="357.5" cy="316.5" r="2.95"/>
<circle cx="355.4" cy="314.0" r="2.95"/>
<circle cx="355.7" cy="314.8" r="2.95"/>
<circle cx="355.7" cy="315.2" r="2.95"/>
<circle cx="354.3" cy="313.9" r="2.95"/>
<circle cx="354.5" cy="314.7" r="2.95"/>
<circle cx="354.6" cy="315.0" r="2.95"/>
<circle cx="354.7" cy="315.5" r="2.95"/>
<circle cx="354.4" cy="315.8" r="2.95"/>
<circle cx="353.5" cy="315.0" r="2.95"/>
<circle cx="353.4" cy="315.2" r="2.95"/>
<circle cx="352.6" cy="314.8" r="2.95"/>
<circle cx="352.3" cy="314.8" r="2.95"/>
<circle cx="352.6" cy="315.4" r="2.95"/>
<circle cx="354.5" cy="318.0" r="2.95"/>
<circle cx="352.6" cy="316.1" r="2.95"/>
<circle cx="353.2" cy="317.0" r="2.95"/>
<circle cx="352.3" cy="316.2" r="2.95"/>
<circle cx="352.5" cy="317.1" r="2.95"/>
<circle cx="352.1" cy="317.0" r="2.95"/>
<circle cx="351.5" cy="316.4" r="2.95"/>
<circle cx="352.1" cy="317.6" r="2.95"/>
<circle cx="351.6" cy="317.6" r="2.95"/>
<circle cx="351.1" cy="317.1" r="2.95"/>
<circle cx="350.9" cy="317.6" r="2.95"/>
<circle cx="350.7" cy="317.4" r="2.95"/>
<circle cx="350.0" cy="317.2" r="2.95"/>
<circle cx="350.0" cy="317.4" r="2.95"/>
<circle cx="350.5" cy="318.8" r="2.95"/>
<circle cx="349.4" cy="317.3" r="2.95"/>
<circle cx="349.4" cy="317.8" r="2.95"/>
<circle cx="348.9" cy="317.7" r="2.95"/>
<circle cx="348.8" cy="317.8" r="2.95"/>
<circle cx="350.5" cy="320.8" r="2.95"/>
<circle cx="352.0" cy="323.4" r="2.95"/>
<circle cx="349.2" cy="319.3" r="2.95"/>
<circle cx="349.5" cy="319.8" r="2.95"/>
<circle cx="348.5" cy="318.7" r="2.95"/>
<circle cx="348.7" cy="319.8" r="2.95"/>
<circle cx="348.0" cy="319.1" r="2.95"/>
<circle cx="348.2" cy="319.6" r="2.95"/>
<circle cx="347.4" cy="318.8" r="2.95"/>
<circle cx="346.9" cy="318.6" r="2.95"/>
<circle cx="347.7" cy="320.4" r="2.95"/>
<circle cx="347.0" cy="319.9" r="2.95"/>
<circle cx="346.8" cy="320.0" r="2.95"/>
<circle cx="346.9" cy="320.4" r="2.95"/>
<circle cx="346.8" cy="320.8" r="2.95"/>
<circle cx="346.0" cy="320.3" r="2.95"/>
<circle cx="346.3" cy="321.1" r="2.95"/>
<circle cx="345.4" cy="320.1" r="2.95"/>
<circle cx="346.0" cy="321.7" r="2.95"/>
<circle cx="345.5" cy="321.4" r="2.95"/>
<circle cx="345.3" cy="321.5" r="2.95"/>
<circle cx="344.8" cy="321.1" r="2.95"/>
<circle cx="344.9" cy="321.6" r="2.95"/>
<circle cx="344.4" cy="321.2" r="2.95"/>
<circle cx="344.4" cy="322.1" r="2.95"/>
<circle cx="354.1" cy="339.9" r="2.95"/>
<circle cx="343.7" cy="321.1" r="2.95"/>
<circle cx="343.7" cy="321.7" r="2.95"/>
<circle cx="343.4" cy="321.8" r="2.95"/>
<circle cx="343.8" cy="323.1" r="2.95"/>
<circle cx="343.4" cy="322.5" r="2.95"/>
<circle cx="342.7" cy="322.1" r="2.95"/>
<circle cx="343.2" cy="323.5" r="2.95"/>
<circle cx="342.6" cy="322.6" r="2.95"/>
<circle cx="342.6" cy="323.3" r="2.95"/>
<circle cx="341.9" cy="322.9" r="2.95"/>
<circle cx="341.9" cy="323.0" r="2.95"/>
<circle cx="341.8" cy="323.5" r="2.95"/>
<circle cx="341.5" cy="323.5" r="2.95"/>
<circle cx="341.0" cy="323.3" r="2.95"/>
<circle cx="341.4" cy="324.4" r="2.95"/>
<circle cx="340.9" cy="323.9" r="2.95"/>
<circle cx="340.7" cy="324.2" r="2.95"/>
<circle cx="340.8" cy="324.8" r="2.95"/>
<circle cx="339.5" cy="322.7" r="2.95"/>
<circle cx="339.6" cy="323.6" r="2.95"/>
<circle cx="339.5" cy="323.8" r="2.95"/>
<circle cx="339.5" cy="324.6" r="2.95"/>
<circle cx="338.8" cy="323.6" r="2.95"/>
<circle cx="339.1" cy="324.9" r="2.95"/>
<circle cx="338.5" cy="324.5" r="2.95"/>
<circle cx="338.7" cy="325.2" r="2.95"/>
<circle cx="337.8" cy="323.9" r="2.95"/>
<circle cx="338.2" cy="325.4" r="2.95"/>
<circle cx="338.8" cy="327.0" r="2.95"/>
<circle cx="337.7" cy="325.2" r="2.95"/>
<circle cx="337.5" cy="325.1" r="2.95"/>
<circle cx="337.7" cy="326.1" r="2.95"/>
<circle cx="337.1" cy="325.5" r="2.95"/>
<circle cx="336.9" cy="326.0" r="2.95"/>
<circle cx="336.3" cy="324.8" r="2.95"/>
<circle cx="335.8" cy="324.5" r="2.95"/>
<circle cx="335.8" cy="325.2" r="2.95"/>
<circle cx="335.4" cy="325.1" r="2.95"/>
<circle cx="335.3" cy="325.1" r="2.95"/>
<circle cx="335.0" cy="325.0" r="2.95"/>
<circle cx="335.4" cy="326.4" r="2.95"/>
<circle cx="334.6" cy="325.3" r="2.95"/>
<circle cx="334.6" cy="326.0" r="2.95"/>
<circle cx="334.5" cy="326.5" r="2.95"/>
<circle cx="333.9" cy="325.9" r="2.95"/>
<circle cx="334.1" cy="327.3" r="2.95"/>
<circle cx="334.0" cy="327.2" r="2.95"/>
<circle cx="333.5" cy="327.3" r="2.95"/>
<circle cx="333.5" cy="327.4" r="2.95"/>
<circle cx="332.4" cy="325.5" r="2.95"/>
<circle cx="333.2" cy="327.9" r="2.95"/>
<circle cx="333.4" cy="329.7" r="2.95"/>
<circle cx="332.2" cy="326.3" r="2.95"/>
<circle cx="332.0" cy="326.0" r="2.95"/>
</g>
<g fill="#8C1E9B">
<circle cx="331.0" cy="324.4" r="2.95"/>
</g>
<g fill="#6B8E23">
<circle cx="329.6" cy="324.8" r="2.95"/>
<circle cx="328.1" cy="330.6" r="2.95"/>
<circle cx="327.6" cy="330.3" r="2.95"/>
<circle cx="327.5" cy="330.8" r="2.95"/>
<circle cx="327.1" cy="330.7" r="2.95"/>
<circle cx="326.9" cy="330.1" r="2.95"/>
<circle cx="326.6" cy="330.4" r="2.95"/>
<circle cx="326.9" cy="332.5" r="2.95"/>
<circle cx="325.3" cy="329.8" r="2.95"/>
<circle cx="326.5" cy="331.0" r="2.95"/>
<circle cx="325.6" cy="328.6" r="2.95"/>
<circle cx="325.3" cy="328.2" r="2.95"/>
<circle cx="324.9" cy="327.9" r="2.95"/>
<circle cx="324.8" cy="328.3" r="2.95"/>
<circle cx="324.8" cy="329.8" r="2.95"/>
<circle cx="324.9" cy="331.3" r="2.95"/>
<circle cx="324.8" cy="331.2" r="2.95"/>
<circle cx="324.1" cy="330.2" r="2.95"/>
<circle cx="324.1" cy="331.4" r="2.95"/>
<circle cx="323.5" cy="329.7" r="2.95"/>
<circle cx="322.9" cy="328.4" r="2.95"/>
<circle cx="323.1" cy="330.7" r="2.95"/>
<circle cx="323.0" cy="330.6" r="2.95"/>
<circle cx="322.9" cy="332.0" r="2.95"/>
<circle cx="322.7" cy="332.2" r="2.95"/>
<circle cx="322.9" cy="334.0" r="2.95"/>
<circle cx="322.6" cy="331.0" r="2.95"/>
<circle cx="322.0" cy="330.3" r="2.95"/>
<circle cx="321.4" cy="328.6" r="2.95"/>
<circle cx="321.6" cy="331.0" r="2.95"/>
<circle cx="321.6" cy="332.0" r="2.95"/>
<circle cx="321.1" cy="330.4" r="2.95"/>
<circle cx="321.0" cy="331.7" r="2.95"/>
<circle cx="320.6" cy="330.4" r="2.95"/>
<circle cx="320.3" cy="330.9" r="2.95"/>
<circle cx="319.8" cy="329.9" r="2.95"/>
<circle cx="319.6" cy="330.4" r="2.95"/>
<circle cx="319.4" cy="329.9" r="2.95"/>
<circle cx="319.5" cy="332.8" r="2.95"/>
<circle cx="319.1" cy="332.1" r="2.95"/>
<circle cx="319.5" cy="335.6" r="2.95"/>
<circle cx="319.8" cy="332.5" r="2.95"/>
<circle cx="319.2" cy="329.6" r="2.95"/>
<circle cx="318.7" cy="330.2" r="2.95"/>
<circle cx="318.6" cy="331.3" r="2.95"/>
<circle cx="318.3" cy="332.1" r="2.95"/>
<circle cx="318.2" cy="331.9" r="2.95"/>
<circle cx="317.6" cy="331.3" r="2.95"/>
<circle cx="317.5" cy="330.3" r="2.95"/>
<circle cx="317.2" cy="329.9" r="2.95"/>
<circle cx="316.9" cy="331.6" r="2.95"/>
<circle cx="316.8" cy="332.4" r="2.95"/>
<circle cx="316.4" cy="331.7" r="2.95"/>
<circle cx="316.4" cy="334.0" r="2.95"/>
<circle cx="316.6" cy="331.0" r="2.95"/>
<circle cx="316.2" cy="331.8" r="2.95"/>
<circle cx="315.9" cy="331.7" r="2.95"/>
<circle cx="315.5" cy="330.1" r="2.95"/>
<circle cx="315.3" cy="331.2" r="2.95"/>
<circle cx="314.9" cy="329.7" r="2.95"/>
<circle cx="314.8" cy="329.5" r="2.95"/>
<circle cx="314.7" cy="333.1" r="2.95"/>
<circle cx="314.3" cy="330.9" r="2.95"/>
<circle cx="314.1" cy="332.6" r="2.95"/>
<circle cx="313.8" cy="330.5" r="2.95"/>
<circle cx="313.6" cy="331.2" r="2.95"/>
<circle cx="313.4" cy="331.2" r="2.95"/>
<circle cx="313.1" cy="333.3" r="2.95"/>
<circle cx="312.9" cy="331.8" r="2.95"/>
<circle cx="312.6" cy="330.0" r="2.95"/>
<circle cx="312.2" cy="331.9" r="2.95"/>
<circle cx="311.9" cy="331.4" r="2.95"/>
<circle cx="311.9" cy="331.1" r="2.95"/>
<circle cx="311.6" cy="333.4" r="2.95"/>
<circle cx="311.1" cy="331.5" r="2.95"/>
<circle cx="311.0" cy="330.0" r="2.95"/>
<circle cx="310.7" cy="330.5" r="2.95"/>
<circle cx="310.5" cy="329.7" r="2.95"/>
<circle cx="310.4" cy="332.4" r="2.95"/>
<circle cx="310.1" cy="333.6" r="2.95"/>
</g>
<g fill="#8C1E9B">
<circle cx="309.5" cy="328.2" r="2.95"/>
</g>
<g fill="#7F7F7F">
<circle cx="308.3" cy="335.1" r="2.95"/>
</g>
<g fill="#E2A030">
<circle cx="308.1" cy="328.2" r="2.95"/>
<circle cx="305.9" cy="330.5" r="2.95"/>
<circle cx="305.6" cy="332.1" r="2.95"/>
<circle cx="305.4" cy="329.8" r="2.95"/>
<circle cx="305.1" cy="331.6" r="2.95"/>
<circle cx="304.8" cy="332.3" r="2.95"/>
<circle cx="304.6" cy="332.3" r="2.95"/>
<circle cx="304.4" cy="329.6" r="2.95"/>
<circle cx="304.2" cy="331.4" r="2.95"/>
<circle cx="303.8" cy="329.7" r="2.95"/>
<circle cx="303.6" cy="331.6" r="2.95"/>
<circle cx="303.3" cy="332.0" r="2.95"/>
<circle cx="303.1" cy="329.6" r="2.95"/>
<circle cx="302.8" cy="331.1" r="2.95"/>
<circle cx="302.0" cy="340.8" r="2.95"/>
<circle cx="302.5" cy="331.4" r="2.95"/>
<circle cx="302.3" cy="331.7" r="2.95"/>
<circle cx="302.0" cy="331.2" r="2.95"/>
<circle cx="301.7" cy="330.6" r="2.95"/>
<circle cx="301.4" cy="331.6" r="2.95"/>
<circle cx="301.0" cy="331.6" r="2.95"/>
<circle cx="301.0" cy="330.1" r="2.95"/>
<circle cx="300.6" cy="332.1" r="2.95"/>
<circle cx="300.2" cy="331.6" r="2.95"/>
<circle cx="300.1" cy="331.0" r="2.95"/>
</g>
<g fill="#844494">
<circle cx="297.7" cy="348.9" r="2.95"/>
<circle cx="299.5" cy="332.7" r="2.95"/>
<circle cx="299.6" cy="330.5" r="2.95"/>
<circle cx="299.1" cy="332.9" r="2.95"/>
</g>
<g fill="#E2A030">
<circle cx="302.9" cy="332.6" r="2.95"/>
</g>
<g fill="#844494">
<circle cx="298.9" cy="332.0" r="2.95"/>
<circle cx="298.5" cy="332.9" r="2.95"/>
<circle cx="298.5" cy="330.2" r="2.95"/>
<circle cx="298.5" cy="330.2" r="2.95"/>
<circle cx="298.0" cy="331.5" r="2.95"/>
<circle cx="297.4" cy="332.7" r="2.95"/>
<circle cx="297.4" cy="332.5" r="2.95"/>
<circle cx="296.9" cy="332.6" r="2.95"/>
<circle cx="297.1" cy="330.0" r="2.95"/>
<circle cx="296.4" cy="332.2" r="2.95"/>
<circle cx="296.1" cy="332.6" r="2.95"/>
</g>
<g fill="#E2A030">
<circle cx="301.3" cy="333.2" r="2.95"/>
</g>
<g fill="#844494">
<circle cx="296.5" cy="329.1" r="2.95"/>
<circle cx="295.7" cy="332.1" r="2.95"/>
<circle cx="295.6" cy="331.8" r="2.95"/>
<circle cx="295.6" cy="331.5" r="2.95"/>
<circle cx="295.5" cy="329.6" r="2.95"/>
<circle cx="295.0" cy="331.4" r="2.95"/>
<circle cx="295.2" cy="329.4" r="2.95"/>
<circle cx="294.5" cy="331.7" r="2.95"/>
<circle cx="294.4" cy="330.4" r="2.95"/>
<circle cx="294.0" cy="331.8" r="2.95"/>
<circle cx="292.0" cy="340.8" r="2.95"/>
<circle cx="294.1" cy="329.3" r="2.95"/>
<circle cx="293.3" cy="332.1" r="2.95"/>
</g>
<g fill="#E2A030">
<circle cx="299.8" cy="333.6" r="2.95"/>
</g>
<g fill="#844494">
<circle cx="293.3" cy="330.4" r="2.95"/>
<circle cx="293.1" cy="330.7" r="2.95"/>
<circle cx="293.3" cy="329.0" r="2.95"/>
<circle cx="292.6" cy="331.1" r="2.95"/>
<circle cx="292.1" cy="332.5" r="2.95"/>
<circle cx="292.8" cy="329.6" r="2.95"/>
<circle cx="292.4" cy="330.4" r="2.95"/>
<circle cx="292.2" cy="330.2" r="2.95"/>
<circle cx="292.4" cy="328.1" r="2.95"/>
<circle cx="288.4" cy="345.0" r="2.95"/>
<circle cx="291.6" cy="329.4" r="2.95"/>
<circle cx="291.4" cy="330.5" r="2.95"/>
<circle cx="291.4" cy="328.4" r="2.95"/>
<circle cx="291.0" cy="329.1" r="2.95"/>
<circle cx="291.1" cy="327.7" r="2.95"/>
<circle cx="290.0" cy="331.8" r="2.95"/>
<circle cx="290.1" cy="329.5" r="2.95"/>
<circle cx="290.1" cy="328.6" r="2.95"/>
<circle cx="289.1" cy="332.0" r="2.95"/>
<circle cx="289.9" cy="329.1" r="2.95"/>
<circle cx="289.7" cy="329.2" r="2.95"/>
<circle cx="289.0" cy="330.5" r="2.95"/>
<circle cx="288.6" cy="331.3" r="2.95"/>
<circle cx="289.5" cy="327.4" r="2.95"/>
<circle cx="289.1" cy="327.9" r="2.95"/>
<circle cx="289.0" cy="327.3" r="2.95"/>
<circle cx="287.7" cy="330.6" r="2.95"/>
<circle cx="287.4" cy="330.9" r="2.95"/>
<circle cx="288.1" cy="327.1" r="2.95"/>
<circle cx="287.5" cy="328.5" r="2.95"/>
<circle cx="286.7" cy="330.8" r="2.95"/>
<circle cx="286.1" cy="332.0" r="2.95"/>
<circle cx="286.5" cy="329.0" r="2.95"/>
<circle cx="286.9" cy="329.0" r="2.95"/>
<circle cx="286.1" cy="330.6" r="2.95"/>
<circle cx="286.5" cy="328.1" r="2.95"/>
<circle cx="286.6" cy="327.1" r="2.95"/>
<circle cx="285.2" cy="330.4" r="2.95"/>
<circle cx="286.3" cy="326.5" r="2.95"/>
<circle cx="285.7" cy="327.7" r="2.95"/>
<circle cx="284.6" cy="329.9" r="2.95"/>
<circle cx="285.5" cy="326.3" r="2.95"/>
<circle cx="284.3" cy="328.9" r="2.95"/>
<circle cx="283.8" cy="330.0" r="2.95"/>
<circle cx="284.8" cy="326.5" r="2.95"/>
<circle cx="283.3" cy="329.6" r="2.95"/>
<circle cx="282.6" cy="331.0" r="2.95"/>
<circle cx="282.7" cy="327.9" r="2.95"/>
<circle cx="284.0" cy="326.9" r="2.95"/>
<circle cx="283.1" cy="328.7" r="2.95"/>
<circle cx="283.6" cy="326.9" r="2.95"/>
<circle cx="283.6" cy="326.0" r="2.95"/>
<circle cx="283.2" cy="326.0" r="2.95"/>
<circle cx="283.1" cy="325.9" r="2.95"/>
</g>
<g fill="#D21E14">
<circle cx="282.9" cy="325.2" r="2.95"/>
<circle cx="282.4" cy="325.9" r="2.95"/>
<circle cx="281.2" cy="328.8" r="2.95"/>
<circle cx="280.9" cy="328.7" r="2.95"/>
<circle cx="280.6" cy="328.4" r="2.95"/>
<circle cx="281.2" cy="326.6" r="2.95"/>
<circle cx="280.2" cy="328.4" r="2.95"/>
<circle cx="279.0" cy="330.7" r="2.95"/>
<circle cx="279.7" cy="327.8" r="2.95"/>
<circle cx="281.0" cy="325.1" r="2.95"/>
<circle cx="280.3" cy="327.1" r="2.95"/>
<circle cx="280.6" cy="325.8" r="2.95"/>
<circle cx="280.0" cy="326.3" r="2.95"/>
<circle cx="280.4" cy="324.8" r="2.95"/>
<circle cx="280.4" cy="324.4" r="2.95"/>
<circle cx="279.2" cy="326.3" r="2.95"/>
<circle cx="278.6" cy="327.5" r="2.95"/>
<circle cx="279.1" cy="325.6" r="2.95"/>
<circle cx="279.1" cy="324.9" r="2.95"/>
<circle cx="278.6" cy="325.0" r="2.95"/>
<circle cx="278.3" cy="325.6" r="2.95"/>
<circle cx="277.3" cy="327.1" r="2.95"/>
<circle cx="277.0" cy="327.3" r="2.95"/>
<circle cx="276.9" cy="326.9" r="2.95"/>
<circle cx="277.7" cy="324.0" r="2.95"/>
<circle cx="277.4" cy="324.2" r="2.95"/>
<circle cx="277.4" cy="323.8" r="2.95"/>
<circle cx="275.7" cy="327.0" r="2.95"/>
<circle cx="277.5" cy="324.5" r="2.95"/>
<circle cx="275.7" cy="326.8" r="2.95"/>
<circle cx="275.4" cy="326.4" r="2.95"/>
<circle cx="276.6" cy="323.9" r="2.95"/>
<circle cx="276.6" cy="322.8" r="2.95"/>
<circle cx="276.0" cy="323.6" r="2.95"/>
<circle cx="276.2" cy="322.4" r="2.95"/>
<circle cx="275.4" cy="323.5" r="2.95"/>
<circle cx="276.0" cy="322.2" r="2.95"/>
<circle cx="274.6" cy="324.0" r="2.95"/>
<circle cx="274.7" cy="323.6" r="2.95"/>
<circle cx="274.7" cy="322.6" r="2.95"/>
<circle cx="274.7" cy="322.2" r="2.95"/>
<circle cx="273.3" cy="324.6" r="2.95"/>
<circle cx="274.1" cy="322.2" r="2.95"/>
<circle cx="274.3" cy="321.7" r="2.95"/>
<circle cx="273.1" cy="323.1" r="2.95"/>
<circle cx="271.8" cy="325.4" r="2.95"/>
<circle cx="272.6" cy="322.4" r="2.95"/>
<circle cx="273.5" cy="321.9" r="2.95"/>
<circle cx="272.2" cy="323.7" r="2.95"/>
<circle cx="272.2" cy="323.1" r="2.95"/>
<circle cx="273.2" cy="321.1" r="2.95"/>
<circle cx="272.1" cy="322.2" r="2.95"/>
<circle cx="272.6" cy="320.7" r="2.95"/>
<circle cx="271.8" cy="321.6" r="2.95"/>
<circle cx="270.5" cy="323.5" r="2.95"/>
<circle cx="272.1" cy="320.2" r="2.95"/>
<circle cx="270.8" cy="321.8" r="2.95"/>
<circle cx="271.1" cy="320.9" r="2.95"/>
<circle cx="269.8" cy="322.9" r="2.95"/>
<circle cx="271.0" cy="320.3" r="2.95"/>
<circle cx="269.8" cy="321.8" r="2.95"/>
<circle cx="269.8" cy="321.4" r="2.95"/>
<circle cx="269.5" cy="321.2" r="2.95"/>
<circle cx="268.9" cy="321.9" r="2.95"/>
<circle cx="268.8" cy="322.1" r="2.95"/>
<circle cx="270.1" cy="319.4" r="2.95"/>
<circle cx="268.2" cy="322.2" r="2.95"/>
<circle cx="268.4" cy="321.5" r="2.95"/>
<circle cx="268.1" cy="321.6" r="2.95"/>
<circle cx="267.7" cy="321.9" r="2.95"/>
<circle cx="268.1" cy="320.3" r="2.95"/>
<circle cx="267.9" cy="320.3" r="2.95"/>
<circle cx="268.9" cy="318.3" r="2.95"/>
<circle cx="268.1" cy="318.9" r="2.95"/>
<circle cx="268.4" cy="318.4" r="2.95"/>
<circle cx="266.5" cy="320.8" r="2.95"/>
<circle cx="268.0" cy="318.1" r="2.95"/>
<circle cx="265.9" cy="320.6" r="2.95"/>
<circle cx="267.1" cy="317.8" r="2.95"/>
<circle cx="263.0" cy="324.9" r="2.95"/>
<circle cx="267.4" cy="318.2" r="2.95"/>
<circle cx="266.4" cy="319.7" r="2.95"/>
<circle cx="266.2" cy="319.2" r="2.95"/>
<circle cx="267.0" cy="317.5" r="2.95"/>
<circle cx="265.3" cy="319.5" r="2.95"/>
<circle cx="266.7" cy="317.4" r="2.95"/>
<circle cx="265.4" cy="318.5" r="2.95"/>
<circle cx="266.2" cy="317.1" r="2.95"/>
<circle cx="265.9" cy="316.9" r="2.95"/>
<circle cx="263.9" cy="319.3" r="2.95"/>
<circle cx="264.5" cy="318.2" r="2.95"/>
<circle cx="265.2" cy="316.6" r="2.95"/>
<circle cx="263.0" cy="319.1" r="2.95"/>
</g>
<g fill="#8C1E9B">
<circle cx="265.6" cy="315.0" r="2.95"/>
</g>
<g fill="#D21E14">
<circle cx="251.8" cy="333.4" r="2.95"/>
</g>
<g fill="#4F78FF">
<circle cx="264.4" cy="314.1" r="2.95"/>
<circle cx="260.8" cy="315.7" r="2.95"/>
<circle cx="260.7" cy="315.4" r="2.95"/>
<circle cx="261.3" cy="314.6" r="2.95"/>
<circle cx="260.2" cy="315.2" r="2.95"/>
<circle cx="261.0" cy="314.0" r="2.95"/>
<circle cx="260.9" cy="313.7" r="2.95"/>
<circle cx="261.2" cy="312.9" r="2.95"/>
<circle cx="260.3" cy="313.7" r="2.95"/>
<circle cx="260.8" cy="312.8" r="2.95"/>
<circle cx="259.3" cy="313.8" r="2.95"/>
<circle cx="259.3" cy="313.4" r="2.95"/>
<circle cx="258.7" cy="313.8" r="2.95"/>
<circle cx="260.1" cy="311.7" r="2.95"/>
<circle cx="259.5" cy="312.1" r="2.95"/>
<circle cx="259.3" cy="312.0" r="2.95"/>
<circle cx="257.9" cy="313.2" r="2.95"/>
<circle cx="259.0" cy="311.6" r="2.95"/>
<circle cx="258.4" cy="311.8" r="2.95"/>
<circle cx="258.5" cy="311.3" r="2.95"/>
<circle cx="257.7" cy="312.0" r="2.95"/>
<circle cx="257.6" cy="311.7" r="2.95"/>
<circle cx="257.5" cy="311.2" r="2.95"/>
<circle cx="257.5" cy="311.1" r="2.95"/>
<circle cx="257.9" cy="310.2" r="2.95"/>
<circle cx="257.8" cy="310.0" r="2.95"/>
<circle cx="257.0" cy="310.4" r="2.95"/>
<circle cx="255.3" cy="312.1" r="2.95"/>
<circle cx="257.0" cy="309.6" r="2.95"/>
<circle cx="257.2" cy="309.9" r="2.95"/>
<circle cx="256.4" cy="310.4" r="2.95"/>
<circle cx="252.0" cy="314.7" r="2.95"/>
<circle cx="256.0" cy="310.2" r="2.95"/>
<circle cx="255.8" cy="310.2" r="2.95"/>
<circle cx="255.5" cy="310.2" r="2.95"/>
<circle cx="255.6" cy="309.6" r="2.95"/>
<circle cx="249.0" cy="315.9" r="2.95"/>
<circle cx="255.6" cy="309.2" r="2.95"/>
<circle cx="255.9" cy="308.7" r="2.95"/>
<circle cx="255.2" cy="309.0" r="2.95"/>
</g>
<g fill="#8C1E9B">
<circle cx="256.4" cy="307.3" r="2.95"/>
</g>
<g fill="#4F78FF">
<circle cx="251.8" cy="311.4" r="2.95"/>
</g>
<g fill="#8C1E9B">
<circle cx="243.0" cy="318.5" r="2.95"/>
</g>
<g fill="#559655">
<circle cx="255.4" cy="306.3" r="2.95"/>
<circle cx="253.2" cy="306.8" r="2.95"/>
<circle cx="252.0" cy="307.7" r="2.95"/>
<circle cx="252.3" cy="307.1" r="2.95"/>
<circle cx="253.7" cy="305.5" r="2.95"/>
<circle cx="252.6" cy="305.9" r="2.95"/>
<circle cx="252.7" cy="305.8" r="2.95"/>
<circle cx="251.7" cy="306.2" r="2.95"/>
<circle cx="252.7" cy="305.1" r="2.95"/>
<circle cx="251.2" cy="305.7" r="2.95"/>
<circle cx="252.1" cy="304.9" r="2.95"/>
<circle cx="251.1" cy="305.3" r="2.95"/>
<circle cx="250.5" cy="305.4" r="2.95"/>
<circle cx="251.1" cy="304.5" r="2.95"/>
<circle cx="250.4" cy="304.8" r="2.95"/>
<circle cx="250.9" cy="304.1" r="2.95"/>
<circle cx="250.4" cy="304.2" r="2.95"/>
<circle cx="250.2" cy="304.3" r="2.95"/>
<circle cx="241.5" cy="311.4" r="2.95"/>
<circle cx="237.4" cy="314.7" r="2.95"/>
<circle cx="251.3" cy="303.0" r="2.95"/>
<circle cx="251.4" cy="302.6" r="2.95"/>
<circle cx="250.0" cy="303.5" r="2.95"/>
<circle cx="249.0" cy="304.0" r="2.95"/>
<circle cx="250.1" cy="302.8" r="2.95"/>
<circle cx="248.8" cy="303.4" r="2.95"/>
<circle cx="249.8" cy="302.4" r="2.95"/>
<circle cx="249.5" cy="302.3" r="2.95"/>
<circle cx="249.7" cy="301.8" r="2.95"/>
<circle cx="249.0" cy="302.1" r="2.95"/>
<circle cx="249.4" cy="301.5" r="2.95"/>
<circle cx="247.9" cy="302.1" r="2.95"/>
<circle cx="248.8" cy="301.3" r="2.95"/>
<circle cx="249.0" cy="300.9" r="2.95"/>
<circle cx="248.2" cy="301.2" r="2.95"/>
</g>
<g fill="#000000">
<circle cx="247.5" cy="301.5" r="2.95"/>
</g>
<g fill="#559655">
<circle cx="246.4" cy="302.3" r="2.95"/>
<circle cx="249.2" cy="301.1" r="2.95"/>
<circle cx="249.1" cy="300.1" r="2.95"/>
</g>
<g fill="#000000">
<circle cx="248.8" cy="299.8" r="2.95"/>
<circle cx="248.2" cy="300.0" r="2.95"/>
<circle cx="248.6" cy="299.3" r="2.95"/>
<circle cx="247.9" cy="299.7" r="2.95"/>
<circle cx="248.6" cy="299.0" r="2.95"/>
<circle cx="248.0" cy="299.0" r="2.95"/>
<circle cx="247.5" cy="298.9" r="2.95"/>
<circle cx="247.2" cy="298.9" r="2.95"/>
<circle cx="247.5" cy="298.4" r="2.95"/>
<circle cx="247.5" cy="298.1" r="2.95"/>
<circle cx="247.2" cy="298.1" r="2.95"/>
<circle cx="246.7" cy="298.1" r="2.95"/>
<circle cx="246.9" cy="297.6" r="2.95"/>
<circle cx="247.0" cy="297.4" r="2.95"/>
<circle cx="245.0" cy="298.5" r="2.95"/>
<circle cx="246.6" cy="297.2" r="2.95"/>
<circle cx="246.2" cy="297.2" r="2.95"/>
<circle cx="246.4" cy="296.6" r="2.95"/>
<circle cx="246.2" cy="296.6" r="2.95"/>
<circle cx="246.2" cy="296.1" r="2.95"/>
<circle cx="245.7" cy="296.3" r="2.95"/>
<circle cx="246.1" cy="295.8" r="2.95"/>
<circle cx="245.3" cy="295.8" r="2.95"/>
<circle cx="246.0" cy="295.2" r="2.95"/>
<circle cx="245.2" cy="295.3" r="2.95"/>
<circle cx="244.8" cy="295.3" r="2.95"/>
<circle cx="240.2" cy="298.0" r="2.95"/>
<circle cx="245.2" cy="294.7" r="2.95"/>
<circle cx="245.3" cy="294.6" r="2.95"/>
<circle cx="244.9" cy="294.4" r="2.95"/>
<circle cx="245.2" cy="294.1" r="2.95"/>
<circle cx="244.6" cy="294.0" r="2.95"/>
<circle cx="244.1" cy="294.1" r="2.95"/>
<circle cx="244.9" cy="293.2" r="2.95"/>
<circle cx="244.0" cy="293.5" r="2.95"/>
<circle cx="244.0" cy="293.3" r="2.95"/>
<circle cx="244.3" cy="292.9" r="2.95"/>
<circle cx="242.5" cy="293.5" r="2.95"/>
<circle cx="243.8" cy="292.6" r="2.95"/>
<circle cx="244.1" cy="292.2" r="2.95"/>
<circle cx="243.7" cy="292.3" r="2.95"/>
<circle cx="243.5" cy="292.1" r="2.95"/>
<circle cx="242.9" cy="292.1" r="2.95"/>
<circle cx="243.4" cy="291.5" r="2.95"/>
<circle cx="243.6" cy="291.2" r="2.95"/>
<circle cx="243.5" cy="290.8" r="2.95"/>
<circle cx="243.4" cy="290.8" r="2.95"/>
<circle cx="224.4" cy="300.7" r="2.95"/>
<circle cx="242.5" cy="290.8" r="2.95"/>
<circle cx="242.4" cy="290.6" r="2.95"/>
<circle cx="243.2" cy="290.1" r="2.95"/>
<circle cx="242.7" cy="289.8" r="2.95"/>
<circle cx="242.6" cy="289.7" r="2.95"/>
<circle cx="242.6" cy="289.5" r="2.95"/>
<circle cx="241.8" cy="289.6" r="2.95"/>
<circle cx="242.2" cy="289.0" r="2.95"/>
<circle cx="242.1" cy="288.8" r="2.95"/>
<circle cx="238.4" cy="290.5" r="2.95"/>
<circle cx="241.5" cy="289.0" r="2.95"/>
<circle cx="241.2" cy="288.6" r="2.95"/>
<circle cx="241.5" cy="288.3" r="2.95"/>
<circle cx="242.1" cy="287.8" r="2.95"/>
<circle cx="241.0" cy="287.8" r="2.95"/>
<circle cx="240.9" cy="287.8" r="2.95"/>
<circle cx="241.4" cy="287.1" r="2.95"/>
<circle cx="240.6" cy="287.3" r="2.95"/>
<circle cx="240.0" cy="287.5" r="2.95"/>
<circle cx="240.5" cy="287.1" r="2.95"/>
<circle cx="241.1" cy="286.6" r="2.95"/>
<circle cx="241.1" cy="286.2" r="2.95"/>
<circle cx="240.3" cy="286.4" r="2.95"/>
<circle cx="240.3" cy="286.1" r="2.95"/>
<circle cx="240.9" cy="285.6" r="2.95"/>
<circle cx="240.8" cy="285.3" r="2.95"/>
<circle cx="240.5" cy="285.0" r="2.95"/>
<circle cx="240.6" cy="284.8" r="2.95"/>
<circle cx="240.2" cy="284.7" r="2.95"/>
<circle cx="240.5" cy="284.4" r="2.95"/>
<circle cx="239.6" cy="284.5" r="2.95"/>
<circle cx="240.1" cy="284.0" r="2.95"/>
<circle cx="240.0" cy="283.8" r="2.95"/>
<circle cx="240.2" cy="283.5" r="2.95"/>
<circle cx="239.7" cy="283.3" r="2.95"/>
<circle cx="239.3" cy="283.3" r="2.95"/>
<circle cx="236.0" cy="284.5" r="2.95"/>
<circle cx="239.7" cy="282.9" r="2.95"/>
<circle cx="239.7" cy="282.4" r="2.95"/>
<circle cx="238.8" cy="282.6" r="2.95"/>
<circle cx="239.5" cy="282.0" r="2.95"/>
<circle cx="238.8" cy="282.1" r="2.95"/>
<circle cx="238.4" cy="281.9" r="2.95"/>
<circle cx="238.4" cy="281.7" r="2.95"/>
<circle cx="239.1" cy="281.1" r="2.95"/>
<circle cx="239.1" cy="280.9" r="2.95"/>
<circle cx="238.9" cy="280.6" r="2.95"/>
<circle cx="237.5" cy="281.0" r="2.95"/>
<circle cx="238.4" cy="280.5" r="2.95"/>
<circle cx="238.7" cy="280.2" r="2.95"/>
<circle cx="238.7" cy="279.9" r="2.95"/>
<circle cx="238.7" cy="279.6" r="2.95"/>
<circle cx="238.2" cy="279.6" r="2.95"/>
<circle cx="237.8" cy="279.5" r="2.95"/>
<circle cx="237.9" cy="279.2" r="2.95"/>
<circle cx="238.2" cy="278.8" r="2.95"/>
<circle cx="238.4" cy="278.5" r="2.95"/>
<circle cx="237.5" cy="278.6" r="2.95"/>
<circle cx="237.6" cy="278.2" r="2.95"/>
<circle cx="237.6" cy="278.0" r="2.95"/>
<circle cx="237.6" cy="277.7" r="2.95"/>
<circle cx="238.1" cy="277.3" r="2.95"/>
<circle cx="237.8" cy="277.1" r="2.95"/>
<circle cx="237.2" cy="277.1" r="2.95"/>
<circle cx="237.5" cy="276.7" r="2.95"/>
<circle cx="236.9" cy="276.4" r="2.95"/>
<circle cx="236.8" cy="276.2" r="2.95"/>
<circle cx="237.4" cy="276.0" r="2.95"/>
<circle cx="236.9" cy="275.9" r="2.95"/>
<circle cx="235.0" cy="276.0" r="2.95"/>
<circle cx="237.2" cy="275.4" r="2.95"/>
<circle cx="236.8" cy="275.3" r="2.95"/>
<circle cx="237.2" cy="274.9" r="2.95"/>
<circle cx="237.0" cy="274.6" r="2.95"/>
<circle cx="237.1" cy="274.4" r="2.95"/>
<circle cx="236.2" cy="274.5" r="2.95"/>
<circle cx="236.4" cy="274.0" r="2.95"/>
<circle cx="237.1" cy="273.8" r="2.95"/>
<circle cx="236.9" cy="273.5" r="2.95"/>
<circle cx="236.6" cy="273.3" r="2.95"/>
<circle cx="236.6" cy="273.1" r="2.95"/>
<circle cx="236.7" cy="272.7" r="2.95"/>
<circle cx="236.2" cy="272.5" r="2.95"/>
<circle cx="236.5" cy="272.2" r="2.95"/>
<circle cx="236.0" cy="272.1" r="2.95"/>
<circle cx="236.7" cy="271.7" r="2.95"/>
<circle cx="235.7" cy="271.6" r="2.95"/>
<circle cx="236.6" cy="271.3" r="2.95"/>
<circle cx="235.8" cy="271.0" r="2.95"/>
<circle cx="231.8" cy="271.8" r="2.95"/>
<circle cx="236.3" cy="270.9" r="2.95"/>
<circle cx="235.6" cy="270.8" r="2.95"/>
<circle cx="235.4" cy="270.5" r="2.95"/>
<circle cx="236.3" cy="269.9" r="2.95"/>
<circle cx="235.9" cy="269.8" r="2.95"/>
<circle cx="234.2" cy="270.0" r="2.95"/>
<circle cx="235.3" cy="269.6" r="2.95"/>
<circle cx="236.2" cy="269.3" r="2.95"/>
<circle cx="235.7" cy="269.0" r="2.95"/>
<circle cx="235.3" cy="268.8" r="2.95"/>
<circle cx="235.1" cy="268.6" r="2.95"/>
<circle cx="235.5" cy="268.3" r="2.95"/>
<circle cx="235.2" cy="268.3" r="2.95"/>
<circle cx="235.4" cy="267.9" r="2.95"/>
<circle cx="235.8" cy="267.5" r="2.95"/>
<circle cx="235.9" cy="267.2" r="2.95"/>
<circle cx="234.9" cy="267.1" r="2.95"/>
<circle cx="235.2" cy="266.9" r="2.95"/>
<circle cx="235.1" cy="266.5" r="2.95"/>
<circle cx="235.5" cy="266.3" r="2.95"/>
<circle cx="235.4" cy="266.2" r="2.95"/>
<circle cx="235.5" cy="265.9" r="2.95"/>
<circle cx="231.2" cy="266.4" r="2.95"/>
<circle cx="235.5" cy="265.6" r="2.95"/>
<circle cx="234.9" cy="265.4" r="2.95"/>
<circle cx="235.4" cy="265.2" r="2.95"/>
<circle cx="235.1" cy="264.9" r="2.95"/>
</g>
<g fill="#8C1E9B">
<circle cx="236.4" cy="264.2" r="2.95"/>
<circle cx="235.9" cy="261.8" r="2.95"/>
</g>
<g fill="#8B6676">
<circle cx="234.6" cy="259.0" r="2.95"/>
<circle cx="233.7" cy="258.9" r="2.95"/>
<circle cx="229.6" cy="258.9" r="2.95"/>
<circle cx="218.8" cy="259.2" r="2.95"/>
<circle cx="234.2" cy="258.7" r="2.95"/>
<circle cx="231.5" cy="258.5" r="2.95"/>
<circle cx="225.1" cy="258.6" r="2.95"/>
<circle cx="233.8" cy="258.4" r="2.95"/>
<circle cx="233.9" cy="258.1" r="2.95"/>
<circle cx="234.0" cy="257.9" r="2.95"/>
<circle cx="234.4" cy="257.5" r="2.95"/>
<circle cx="233.8" cy="257.3" r="2.95"/>
<circle cx="234.7" cy="257.2" r="2.95"/>
<circle cx="234.8" cy="256.9" r="2.95"/>
<circle cx="234.7" cy="256.7" r="2.95"/>
<circle cx="216.7" cy="256.5" r="2.95"/>
<circle cx="234.0" cy="256.4" r="2.95"/>
<circle cx="235.0" cy="256.1" r="2.95"/>
<circle cx="234.4" cy="255.9" r="2.95"/>
<circle cx="234.9" cy="255.6" r="2.95"/>
<circle cx="235.2" cy="255.4" r="2.95"/>
<circle cx="233.9" cy="254.9" r="2.95"/>
<circle cx="234.0" cy="254.9" r="2.95"/>
<circle cx="229.5" cy="254.5" r="2.95"/>
<circle cx="232.0" cy="254.5" r="2.95"/>
<circle cx="234.2" cy="254.4" r="2.95"/>
<circle cx="234.4" cy="254.4" r="2.95"/>
<circle cx="234.9" cy="254.1" r="2.95"/>
<circle cx="235.2" cy="253.8" r="2.95"/>
<circle cx="234.1" cy="253.4" r="2.95"/>
<circle cx="233.7" cy="253.2" r="2.95"/>
<circle cx="234.8" cy="253.0" r="2.95"/>
<circle cx="235.0" cy="252.9" r="2.95"/>
<circle cx="234.0" cy="252.6" r="2.95"/>
<circle cx="234.8" cy="252.2" r="2.95"/>
<circle cx="234.2" cy="252.1" r="2.95"/>
<circle cx="233.8" cy="251.6" r="2.95"/>
<circle cx="234.0" cy="251.6" r="2.95"/>
<circle cx="234.1" cy="251.2" r="2.95"/>
<circle cx="235.1" cy="251.1" r="2.95"/>
<circle cx="228.7" cy="250.3" r="2.95"/>
<circle cx="234.9" cy="250.7" r="2.95"/>
<circle cx="234.5" cy="250.5" r="2.95"/>
<circle cx="234.0" cy="250.3" r="2.95"/>
<circle cx="235.4" cy="250.2" r="2.95"/>
<circle cx="234.4" cy="249.7" r="2.95"/>
<circle cx="233.5" cy="249.5" r="2.95"/>
<circle cx="234.3" cy="249.4" r="2.95"/>
<circle cx="234.0" cy="249.1" r="2.95"/>
<circle cx="234.7" cy="249.0" r="2.95"/>
<circle cx="235.1" cy="248.9" r="2.95"/>
<circle cx="216.2" cy="246.7" r="2.95"/>
<circle cx="235.5" cy="248.6" r="2.95"/>
<circle cx="235.4" cy="248.3" r="2.95"/>
<circle cx="234.0" cy="247.9" r="2.95"/>
<circle cx="235.6" cy="248.0" r="2.95"/>
<circle cx="235.4" cy="247.6" r="2.95"/>
<circle cx="230.8" cy="247.0" r="2.95"/>
<circle cx="235.8" cy="247.3" r="2.95"/>
<circle cx="234.4" cy="246.8" r="2.95"/>
<circle cx="235.1" cy="246.7" r="2.95"/>
<circle cx="234.7" cy="246.5" r="2.95"/>
<circle cx="235.2" cy="246.3" r="2.95"/>
<circle cx="235.2" cy="246.1" r="2.95"/>
<circle cx="234.6" cy="245.6" r="2.95"/>
<circle cx="235.7" cy="245.5" r="2.95"/>
<circle cx="235.3" cy="245.3" r="2.95"/>
<circle cx="234.5" cy="245.0" r="2.95"/>
<circle cx="235.5" cy="245.0" r="2.95"/>
<circle cx="236.0" cy="245.0" r="2.95"/>
<circle cx="235.4" cy="244.6" r="2.95"/>
<circle cx="231.4" cy="243.9" r="2.95"/>
<circle cx="234.7" cy="244.0" r="2.95"/>
<circle cx="217.9" cy="240.9" r="2.95"/>
<circle cx="234.6" cy="243.8" r="2.95"/>
<circle cx="235.3" cy="243.6" r="2.95"/>
<circle cx="236.2" cy="243.6" r="2.95"/>
<circle cx="235.4" cy="243.2" r="2.95"/>
<circle cx="235.5" cy="243.1" r="2.95"/>
<circle cx="235.7" cy="242.7" r="2.95"/>
<circle cx="236.0" cy="242.6" r="2.95"/>
<circle cx="235.1" cy="242.2" r="2.95"/>
<circle cx="236.3" cy="242.3" r="2.95"/>
<circle cx="233.8" cy="241.5" r="2.95"/>
<circle cx="235.9" cy="241.8" r="2.95"/>
<circle cx="235.6" cy="241.6" r="2.95"/>
<circle cx="235.8" cy="241.3" r="2.95"/>
<circle cx="235.9" cy="241.1" r="2.95"/>
<circle cx="236.2" cy="240.8" r="2.95"/>
<circle cx="236.6" cy="240.8" r="2.95"/>
<circle cx="236.1" cy="240.2" r="2.95"/>
<circle cx="235.6" cy="240.0" r="2.95"/>
<circle cx="236.9" cy="240.0" r="2.95"/>
<circle cx="236.0" cy="239.5" r="2.95"/>
<circle cx="236.7" cy="239.7" r="2.95"/>
<circle cx="236.3" cy="239.3" r="2.95"/>
<circle cx="236.3" cy="239.1" r="2.95"/>
<circle cx="236.5" cy="238.9" r="2.95"/>
<circle cx="237.3" cy="238.8" r="2.95"/>
<circle cx="237.3" cy="238.6" r="2.95"/>
<circle cx="236.1" cy="238.0" r="2.95"/>
<circle cx="236.4" cy="237.8" r="2.95"/>
<circle cx="233.5" cy="236.7" r="2.95"/>
<circle cx="237.5" cy="237.7" r="2.95"/>
<circle cx="236.6" cy="237.2" r="2.95"/>
<circle cx="236.4" cy="237.1" r="2.95"/>
<circle cx="237.6" cy="237.1" r="2.95"/>
<circle cx="237.0" cy="236.5" r="2.95"/>
<circle cx="237.8" cy="236.5" r="2.95"/>
<circle cx="238.0" cy="236.3" r="2.95"/>
<circle cx="237.5" cy="236.0" r="2.95"/>
<circle cx="237.2" cy="235.8" r="2.95"/>
<circle cx="237.7" cy="235.6" r="2.95"/>
<circle cx="237.7" cy="235.2" r="2.95"/>
<circle cx="237.4" cy="234.8" r="2.95"/>
<circle cx="237.6" cy="234.6" r="2.95"/>
<circle cx="237.2" cy="234.2" r="2.95"/>
<circle cx="237.4" cy="234.2" r="2.95"/>
<circle cx="237.5" cy="233.9" r="2.95"/>
<circle cx="237.5" cy="233.5" r="2.95"/>
<circle cx="238.2" cy="233.7" r="2.95"/>
<circle cx="237.4" cy="233.0" r="2.95"/>
<circle cx="237.5" cy="233.0" r="2.95"/>
<circle cx="239.0" cy="233.2" r="2.95"/>
<circle cx="238.9" cy="233.0" r="2.95"/>
<circle cx="237.9" cy="232.4" r="2.95"/>
<circle cx="237.8" cy="232.2" r="2.95"/>
<circle cx="238.9" cy="232.2" r="2.95"/>
<circle cx="238.7" cy="232.0" r="2.95"/>
<circle cx="238.6" cy="231.5" r="2.95"/>
<circle cx="239.5" cy="231.7" r="2.95"/>
<circle cx="238.4" cy="231.1" r="2.95"/>
<circle cx="235.9" cy="230.1" r="2.95"/>
<circle cx="238.9" cy="230.9" r="2.95"/>
<circle cx="238.8" cy="230.6" r="2.95"/>
<circle cx="239.7" cy="230.7" r="2.95"/>
<circle cx="239.2" cy="230.1" r="2.95"/>
<circle cx="238.9" cy="229.7" r="2.95"/>
<circle cx="240.2" cy="229.9" r="2.95"/>
<circle cx="240.0" cy="229.7" r="2.95"/>
<circle cx="239.0" cy="229.0" r="2.95"/>
<circle cx="240.5" cy="229.2" r="2.95"/>
<circle cx="239.3" cy="228.7" r="2.95"/>
<circle cx="240.1" cy="228.6" r="2.95"/>
<circle cx="240.5" cy="228.6" r="2.95"/>
<circle cx="240.3" cy="228.1" r="2.95"/>
<circle cx="240.1" cy="227.7" r="2.95"/>
<circle cx="240.5" cy="227.8" r="2.95"/>
<circle cx="239.8" cy="227.2" r="2.95"/>
<circle cx="238.8" cy="226.5" r="2.95"/>
<circle cx="241.2" cy="227.5" r="2.95"/>
<circle cx="240.8" cy="227.1" r="2.95"/>
<circle cx="240.6" cy="226.7" r="2.95"/>
<circle cx="241.0" cy="226.6" r="2.95"/>
<circle cx="240.7" cy="226.3" r="2.95"/>
<circle cx="241.7" cy="226.4" r="2.95"/>
<circle cx="240.4" cy="225.5" r="2.95"/>
<circle cx="241.7" cy="225.9" r="2.95"/>
<circle cx="235.9" cy="223.1" r="2.95"/>
<circle cx="241.7" cy="225.5" r="2.95"/>
<circle cx="241.4" cy="225.2" r="2.95"/>
<circle cx="241.4" cy="224.9" r="2.95"/>
<circle cx="241.0" cy="224.3" r="2.95"/>
<circle cx="242.5" cy="224.7" r="2.95"/>
<circle cx="241.5" cy="224.0" r="2.95"/>
<circle cx="241.6" cy="223.7" r="2.95"/>
<circle cx="241.9" cy="223.6" r="2.95"/>
<circle cx="242.5" cy="223.7" r="2.95"/>
<circle cx="241.8" cy="222.9" r="2.95"/>
<circle cx="242.2" cy="222.8" r="2.95"/>
<circle cx="242.1" cy="222.7" r="2.95"/>
<circle cx="242.7" cy="222.6" r="2.95"/>
<circle cx="243.0" cy="222.5" r="2.95"/>
<circle cx="243.0" cy="222.2" r="2.95"/>
<circle cx="243.2" cy="222.2" r="2.95"/>
<circle cx="242.4" cy="221.4" r="2.95"/>
<circle cx="243.4" cy="221.6" r="2.95"/>
<circle cx="243.7" cy="221.6" r="2.95"/>
<circle cx="244.0" cy="221.4" r="2.95"/>
<circle cx="243.0" cy="220.6" r="2.95"/>
<circle cx="238.3" cy="218.0" r="2.95"/>
<circle cx="243.8" cy="220.7" r="2.95"/>
<circle cx="244.2" cy="220.6" r="2.95"/>
<circle cx="244.6" cy="220.6" r="2.95"/>
<circle cx="244.4" cy="220.2" r="2.95"/>
<circle cx="244.2" cy="219.7" r="2.95"/>
<circle cx="241.0" cy="217.5" r="2.95"/>
<circle cx="244.7" cy="219.6" r="2.95"/>
<circle cx="244.4" cy="219.1" r="2.95"/>
<circle cx="245.0" cy="219.5" r="2.95"/>
<circle cx="244.1" cy="218.4" r="2.95"/>
<circle cx="244.5" cy="218.5" r="2.95"/>
<circle cx="244.5" cy="218.1" r="2.95"/>
<circle cx="245.1" cy="218.3" r="2.95"/>
<circle cx="245.6" cy="218.1" r="2.95"/>
<circle cx="246.1" cy="218.3" r="2.95"/>
<circle cx="245.8" cy="217.9" r="2.95"/>
<circle cx="246.1" cy="217.6" r="2.95"/>
<circle cx="246.2" cy="217.5" r="2.95"/>
<circle cx="245.4" cy="216.6" r="2.95"/>
<circle cx="246.5" cy="217.0" r="2.95"/>
<circle cx="235.4" cy="209.6" r="2.95"/>
<circle cx="245.6" cy="216.0" r="2.95"/>
<circle cx="247.0" cy="216.7" r="2.95"/>
<circle cx="243.5" cy="214.2" r="2.95"/>
<circle cx="246.0" cy="215.7" r="2.95"/>
<circle cx="247.1" cy="216.3" r="2.95"/>
<circle cx="246.7" cy="215.7" r="2.95"/>
<circle cx="246.8" cy="215.3" r="2.95"/>
<circle cx="247.5" cy="215.4" r="2.95"/>
<circle cx="246.8" cy="214.9" r="2.95"/>
<circle cx="247.5" cy="214.9" r="2.95"/>
<circle cx="247.7" cy="214.8" r="2.95"/>
<circle cx="247.7" cy="214.6" r="2.95"/>
<circle cx="247.5" cy="214.2" r="2.95"/>
<circle cx="247.9" cy="214.1" r="2.95"/>
<circle cx="248.4" cy="214.0" r="2.95"/>
<circle cx="248.9" cy="214.1" r="2.95"/>
<circle cx="248.3" cy="213.3" r="2.95"/>
<circle cx="249.2" cy="213.5" r="2.95"/>
<circle cx="248.4" cy="212.8" r="2.95"/>
<circle cx="249.3" cy="213.2" r="2.95"/>
<circle cx="249.4" cy="213.0" r="2.95"/>
<circle cx="249.7" cy="212.8" r="2.95"/>
<circle cx="249.4" cy="212.2" r="2.95"/>
<circle cx="249.3" cy="211.9" r="2.95"/>
</g>
<g fill="#8B961E">
<circle cx="247.8" cy="210.3" r="2.95"/>
<circle cx="249.2" cy="211.1" r="2.95"/>
<circle cx="249.6" cy="211.1" r="2.95"/>
<circle cx="247.9" cy="209.4" r="2.95"/>
<circle cx="249.7" cy="210.5" r="2.95"/>
<circle cx="247.9" cy="208.8" r="2.95"/>
<circle cx="250.5" cy="210.3" r="2.95"/>
<circle cx="247.4" cy="208.3" r="2.95"/>
<circle cx="250.1" cy="210.3" r="2.95"/>
<circle cx="247.8" cy="208.1" r="2.95"/>
<circle cx="251.4" cy="210.8" r="2.95"/>
<circle cx="249.2" cy="208.5" r="2.95"/>
<circle cx="250.5" cy="209.2" r="2.95"/>
<circle cx="251.2" cy="209.3" r="2.95"/>
<circle cx="251.8" cy="209.6" r="2.95"/>
<circle cx="251.7" cy="209.4" r="2.95"/>
<circle cx="250.5" cy="208.1" r="2.95"/>
<circle cx="251.9" cy="208.8" r="2.95"/>
<circle cx="251.5" cy="207.9" r="2.95"/>
<circle cx="252.2" cy="208.5" r="2.95"/>
<circle cx="249.8" cy="205.8" r="2.95"/>
<circle cx="249.8" cy="205.7" r="2.95"/>
<circle cx="251.6" cy="208.2" r="2.95"/>
<circle cx="253.1" cy="208.6" r="2.95"/>
<circle cx="252.6" cy="207.6" r="2.95"/>
<circle cx="251.9" cy="206.6" r="2.95"/>
<circle cx="252.5" cy="206.9" r="2.95"/>
<circle cx="252.3" cy="206.3" r="2.95"/>
<circle cx="250.8" cy="204.8" r="2.95"/>
<circle cx="251.6" cy="205.2" r="2.95"/>
<circle cx="252.1" cy="205.3" r="2.95"/>
<circle cx="251.5" cy="204.3" r="2.95"/>
<circle cx="252.7" cy="205.2" r="2.95"/>
<circle cx="251.7" cy="203.8" r="2.95"/>
<circle cx="251.0" cy="202.8" r="2.95"/>
<circle cx="253.7" cy="204.3" r="2.95"/>
<circle cx="253.0" cy="204.4" r="2.95"/>
<circle cx="254.4" cy="205.6" r="2.95"/>
<circle cx="253.9" cy="204.8" r="2.95"/>
<circle cx="254.9" cy="205.4" r="2.95"/>
<circle cx="253.6" cy="203.7" r="2.95"/>
<circle cx="252.5" cy="202.4" r="2.95"/>
<circle cx="254.2" cy="203.6" r="2.95"/>
<circle cx="253.3" cy="202.5" r="2.95"/>
<circle cx="255.7" cy="204.2" r="2.95"/>
<circle cx="253.9" cy="202.1" r="2.95"/>
<circle cx="255.7" cy="203.7" r="2.95"/>
<circle cx="252.5" cy="200.3" r="2.95"/>
<circle cx="254.8" cy="202.1" r="2.95"/>
<circle cx="256.5" cy="204.7" r="2.95"/>
<circle cx="254.0" cy="201.6" r="2.95"/>
<circle cx="254.9" cy="202.2" r="2.95"/>
<circle cx="255.9" cy="202.7" r="2.95"/>
<circle cx="254.7" cy="201.0" r="2.95"/>
<circle cx="254.8" cy="200.9" r="2.95"/>
<circle cx="255.3" cy="201.1" r="2.95"/>
<circle cx="257.6" cy="202.9" r="2.95"/>
<circle cx="255.1" cy="199.9" r="2.95"/>
<circle cx="258.4" cy="203.2" r="2.95"/>
<circle cx="255.4" cy="199.7" r="2.95"/>
<circle cx="254.8" cy="198.9" r="2.95"/>
<circle cx="257.1" cy="200.9" r="2.95"/>
<circle cx="255.8" cy="199.8" r="2.95"/>
<circle cx="256.6" cy="200.2" r="2.95"/>
<circle cx="258.6" cy="202.0" r="2.95"/>
<circle cx="259.2" cy="202.0" r="2.95"/>
</g>
<g fill="#8C1E9B">
<circle cx="260.2" cy="202.6" r="2.95"/>
</g>
<g fill="#3C678F">
<circle cx="261.3" cy="201.6" r="2.95"/>
</g>
<g fill="#8C1E9B">
<circle cx="258.3" cy="197.5" r="2.95"/>
</g>
<g fill="#3C678F">
<circle cx="259.5" cy="196.5" r="2.95"/>
<circle cx="262.2" cy="199.8" r="2.95"/>
<circle cx="261.5" cy="198.7" r="2.95"/>
<circle cx="261.9" cy="198.7" r="2.95"/>
<circle cx="262.4" cy="199.0" r="2.95"/>
<circle cx="262.6" cy="198.9" r="2.95"/>
<circle cx="262.6" cy="198.4" r="2.95"/>
<circle cx="262.8" cy="198.2" r="2.95"/>
<circle cx="263.6" cy="198.7" r="2.95"/>
<circle cx="263.4" cy="198.2" r="2.95"/>
<circle cx="263.9" cy="198.1" r="2.95"/>
<circle cx="263.4" cy="197.3" r="2.95"/>
<circle cx="262.5" cy="195.5" r="2.95"/>
<circle cx="263.9" cy="197.3" r="2.95"/>
<circle cx="264.5" cy="197.9" r="2.95"/>
<circle cx="264.8" cy="197.9" r="2.95"/>
<circle cx="264.6" cy="197.3" r="2.95"/>
<circle cx="264.8" cy="197.0" r="2.95"/>
<circle cx="265.4" cy="197.5" r="2.95"/>
<circle cx="265.2" cy="196.6" r="2.95"/>
<circle cx="265.4" cy="196.6" r="2.95"/>
<circle cx="265.3" cy="195.9" r="2.95"/>
<circle cx="265.8" cy="196.0" r="2.95"/>
<circle cx="266.2" cy="196.4" r="2.95"/>
<circle cx="265.9" cy="195.5" r="2.95"/>
<circle cx="266.6" cy="196.1" r="2.95"/>
<circle cx="260.3" cy="186.8" r="2.95"/>
<circle cx="267.0" cy="196.2" r="2.95"/>
<circle cx="265.1" cy="193.1" r="2.95"/>
<circle cx="267.4" cy="196.1" r="2.95"/>
<circle cx="266.8" cy="195.0" r="2.95"/>
<circle cx="267.2" cy="195.2" r="2.95"/>
<circle cx="267.7" cy="195.5" r="2.95"/>
<circle cx="268.0" cy="195.6" r="2.95"/>
<circle cx="267.8" cy="194.5" r="2.95"/>
<circle cx="268.6" cy="195.3" r="2.95"/>
<circle cx="268.6" cy="194.8" r="2.95"/>
<circle cx="268.6" cy="194.4" r="2.95"/>
<circle cx="268.4" cy="193.8" r="2.95"/>
<circle cx="268.8" cy="194.0" r="2.95"/>
<circle cx="267.4" cy="191.5" r="2.95"/>
<circle cx="269.3" cy="194.1" r="2.95"/>
<circle cx="269.1" cy="193.4" r="2.95"/>
<circle cx="269.5" cy="193.7" r="2.95"/>
<circle cx="270.0" cy="193.8" r="2.95"/>
<circle cx="270.2" cy="193.7" r="2.95"/>
<circle cx="270.3" cy="193.3" r="2.95"/>
<circle cx="270.7" cy="193.5" r="2.95"/>
<circle cx="270.8" cy="193.1" r="2.95"/>
<circle cx="270.9" cy="193.0" r="2.95"/>
<circle cx="270.9" cy="192.5" r="2.95"/>
<circle cx="271.3" cy="192.5" r="2.95"/>
<circle cx="271.7" cy="192.7" r="2.95"/>
<circle cx="272.1" cy="193.0" r="2.95"/>
<circle cx="272.2" cy="192.4" r="2.95"/>
<circle cx="272.3" cy="192.3" r="2.95"/>
<circle cx="272.8" cy="192.5" r="2.95"/>
<circle cx="272.5" cy="191.7" r="2.95"/>
<circle cx="272.9" cy="191.8" r="2.95"/>
<circle cx="273.0" cy="191.3" r="2.95"/>
<circle cx="273.8" cy="192.3" r="2.95"/>
<circle cx="273.4" cy="191.2" r="2.95"/>
<circle cx="274.2" cy="191.9" r="2.95"/>
<circle cx="274.2" cy="191.7" r="2.95"/>
<circle cx="274.3" cy="191.5" r="2.95"/>
<circle cx="274.6" cy="191.1" r="2.95"/>
<circle cx="272.9" cy="187.6" r="2.95"/>
<circle cx="275.0" cy="191.5" r="2.95"/>
<circle cx="274.6" cy="190.3" r="2.95"/>
<circle cx="275.3" cy="190.8" r="2.95"/>
<circle cx="275.2" cy="190.3" r="2.95"/>
<circle cx="275.9" cy="191.0" r="2.95"/>
<circle cx="276.0" cy="190.6" r="2.95"/>
<circle cx="276.3" cy="190.7" r="2.95"/>
<circle cx="276.4" cy="190.5" r="2.95"/>
<circle cx="275.2" cy="187.4" r="2.95"/>
<circle cx="276.9" cy="190.8" r="2.95"/>
<circle cx="276.7" cy="190.0" r="2.95"/>
<circle cx="277.1" cy="190.4" r="2.95"/>
<circle cx="277.5" cy="190.1" r="2.95"/>
<circle cx="277.6" cy="190.1" r="2.95"/>
<circle cx="268.8" cy="170.5" r="2.95"/>
<circle cx="278.0" cy="190.1" r="2.95"/>
<circle cx="277.8" cy="189.0" r="2.95"/>
<circle cx="278.2" cy="189.5" r="2.95"/>
<circle cx="278.4" cy="189.1" r="2.95"/>
<circle cx="278.9" cy="189.8" r="2.95"/>
<circle cx="278.9" cy="189.3" r="2.95"/>
<circle cx="279.3" cy="189.2" r="2.95"/>
<circle cx="277.9" cy="185.8" r="2.95"/>
<circle cx="279.2" cy="188.7" r="2.95"/>
<circle cx="279.7" cy="189.0" r="2.95"/>
<circle cx="279.7" cy="188.6" r="2.95"/>
<circle cx="280.3" cy="189.0" r="2.95"/>
<circle cx="280.3" cy="188.2" r="2.95"/>
<circle cx="280.4" cy="188.2" r="2.95"/>
<circle cx="280.9" cy="188.9" r="2.95"/>
<circle cx="281.1" cy="188.3" r="2.95"/>
<circle cx="281.2" cy="188.1" r="2.95"/>
<circle cx="281.4" cy="187.6" r="2.95"/>
<circle cx="281.5" cy="187.9" r="2.95"/>
<circle cx="281.9" cy="187.9" r="2.95"/>
<circle cx="282.3" cy="187.8" r="2.95"/>
<circle cx="282.2" cy="187.1" r="2.95"/>
<circle cx="282.6" cy="187.6" r="2.95"/>
<circle cx="281.5" cy="184.0" r="2.95"/>
<circle cx="282.7" cy="187.1" r="2.95"/>
<circle cx="283.0" cy="187.1" r="2.95"/>
<circle cx="283.5" cy="188.0" r="2.95"/>
<circle cx="283.6" cy="187.1" r="2.95"/>
<circle cx="283.8" cy="186.8" r="2.95"/>
<circle cx="284.1" cy="187.5" r="2.95"/>
<circle cx="284.1" cy="186.6" r="2.95"/>
<circle cx="284.6" cy="187.5" r="2.95"/>
<circle cx="284.8" cy="186.7" r="2.95"/>
<circle cx="284.8" cy="186.5" r="2.95"/>
<circle cx="285.3" cy="186.7" r="2.95"/>
<circle cx="285.3" cy="186.4" r="2.95"/>
<circle cx="285.7" cy="186.4" r="2.95"/>
<circle cx="286.0" cy="186.0" r="2.95"/>
<circle cx="283.9" cy="179.4" r="2.95"/>
<circle cx="284.1" cy="182.5" r="2.95"/>
<circle cx="285.9" cy="185.1" r="2.95"/>
<circle cx="286.5" cy="186.8" r="2.95"/>
<circle cx="286.4" cy="186.3" r="2.95"/>
<circle cx="286.4" cy="185.6" r="2.95"/>
<circle cx="287.0" cy="186.5" r="2.95"/>
<circle cx="287.2" cy="186.4" r="2.95"/>
<circle cx="287.5" cy="185.9" r="2.95"/>
<circle cx="287.7" cy="186.0" r="2.95"/>
<circle cx="287.9" cy="186.2" r="2.95"/>
<circle cx="288.1" cy="185.3" r="2.95"/>
<circle cx="288.6" cy="186.0" r="2.95"/>
<circle cx="288.7" cy="186.3" r="2.95"/>
</g>
<g fill="#8C1E9B">
<circle cx="289.3" cy="186.4" r="2.95"/>
</g>
<g fill="#3C678F">
<circle cx="285.9" cy="173.3" r="2.95"/>
<circle cx="286.5" cy="176.2" r="2.95"/>
<circle cx="287.5" cy="179.1" r="2.95"/>
</g>
<g fill="#8C1E9B">
<circle cx="289.3" cy="181.0" r="2.95"/>
</g>
<g fill="#668B8B">
<circle cx="290.7" cy="186.0" r="2.95"/>
<circle cx="293.1" cy="184.3" r="2.95"/>
<circle cx="293.5" cy="184.7" r="2.95"/>
<circle cx="293.5" cy="183.6" r="2.95"/>
<circle cx="293.7" cy="184.3" r="2.95"/>
<circle cx="294.0" cy="183.9" r="2.95"/>
<circle cx="294.3" cy="184.1" r="2.95"/>
<circle cx="294.3" cy="182.8" r="2.95"/>
<circle cx="294.6" cy="182.9" r="2.95"/>
<circle cx="295.0" cy="183.2" r="2.95"/>
<circle cx="291.1" cy="161.2" r="2.95"/>
<circle cx="291.7" cy="164.1" r="2.95"/>
<circle cx="292.8" cy="167.0" r="2.95"/>
<circle cx="292.9" cy="170.0" r="2.95"/>
<circle cx="293.1" cy="173.0" r="2.95"/>
<circle cx="292.8" cy="176.1" r="2.95"/>
<circle cx="294.3" cy="178.9" r="2.95"/>
<circle cx="294.0" cy="182.0" r="2.95"/>
<circle cx="295.5" cy="184.8" r="2.95"/>
<circle cx="295.0" cy="182.2" r="2.95"/>
<circle cx="295.3" cy="182.3" r="2.95"/>
<circle cx="295.7" cy="183.6" r="2.95"/>
<circle cx="296.2" cy="184.6" r="2.95"/>
<circle cx="296.5" cy="184.5" r="2.95"/>
<circle cx="296.7" cy="184.1" r="2.95"/>
<circle cx="296.8" cy="183.0" r="2.95"/>
<circle cx="294.1" cy="164.0" r="2.95"/>
<circle cx="293.8" cy="167.1" r="2.95"/>
<circle cx="295.9" cy="169.8" r="2.95"/>
<circle cx="295.1" cy="172.9" r="2.95"/>
<circle cx="296.5" cy="175.8" r="2.95"/>
<circle cx="297.0" cy="178.7" r="2.95"/>
<circle cx="296.7" cy="181.8" r="2.95"/>
<circle cx="297.1" cy="183.1" r="2.95"/>
<circle cx="297.2" cy="182.6" r="2.95"/>
<circle cx="297.6" cy="183.9" r="2.95"/>
<circle cx="298.0" cy="184.0" r="2.95"/>
<circle cx="298.2" cy="183.8" r="2.95"/>
<circle cx="298.3" cy="184.1" r="2.95"/>
<circle cx="298.4" cy="181.6" r="2.95"/>
<circle cx="298.7" cy="182.5" r="2.95"/>
<circle cx="298.8" cy="181.7" r="2.95"/>
<circle cx="297.0" cy="164.3" r="2.95"/>
<circle cx="296.5" cy="167.4" r="2.95"/>
<circle cx="297.8" cy="170.2" r="2.95"/>
<circle cx="297.7" cy="173.3" r="2.95"/>
<circle cx="298.2" cy="176.2" r="2.95"/>
<circle cx="299.1" cy="179.2" r="2.95"/>
<circle cx="298.5" cy="182.2" r="2.95"/>
<circle cx="299.4" cy="183.8" r="2.95"/>
<circle cx="299.4" cy="182.3" r="2.95"/>
<circle cx="299.6" cy="181.8" r="2.95"/>
<circle cx="300.1" cy="183.5" r="2.95"/>
<circle cx="300.4" cy="183.2" r="2.95"/>
<circle cx="298.9" cy="167.5" r="2.95"/>
<circle cx="298.6" cy="170.5" r="2.95"/>
<circle cx="300.0" cy="173.4" r="2.95"/>
<circle cx="299.1" cy="176.5" r="2.95"/>
<circle cx="299.7" cy="179.5" r="2.95"/>
<circle cx="299.6" cy="182.5" r="2.95"/>
<circle cx="300.7" cy="183.7" r="2.95"/>
<circle cx="301.0" cy="183.2" r="2.95"/>
<circle cx="301.2" cy="183.6" r="2.95"/>
<circle cx="301.3" cy="181.2" r="2.95"/>
<circle cx="301.7" cy="183.9" r="2.95"/>
<circle cx="300.6" cy="170.9" r="2.95"/>
<circle cx="300.2" cy="174.0" r="2.95"/>
<circle cx="300.4" cy="176.9" r="2.95"/>
<circle cx="302.1" cy="179.8" r="2.95"/>
<circle cx="301.0" cy="182.9" r="2.95"/>
<circle cx="301.8" cy="182.2" r="2.95"/>
<circle cx="302.0" cy="182.4" r="2.95"/>
<circle cx="302.2" cy="182.7" r="2.95"/>
<circle cx="302.7" cy="182.7" r="2.95"/>
<circle cx="303.0" cy="183.6" r="2.95"/>
<circle cx="303.3" cy="183.6" r="2.95"/>
<circle cx="303.4" cy="181.0" r="2.95"/>
<circle cx="303.7" cy="182.4" r="2.95"/>
<circle cx="303.8" cy="182.9" r="2.95"/>
<circle cx="303.5" cy="176.0" r="2.95"/>
<circle cx="303.7" cy="179.0" r="2.95"/>
<circle cx="303.9" cy="182.0" r="2.95"/>
<circle cx="304.2" cy="182.4" r="2.95"/>
<circle cx="304.6" cy="183.6" r="2.95"/>
<circle cx="304.6" cy="181.4" r="2.95"/>
<circle cx="304.9" cy="182.3" r="2.95"/>
<circle cx="305.1" cy="183.4" r="2.95"/>
<circle cx="305.3" cy="181.2" r="2.95"/>
<circle cx="305.8" cy="183.1" r="2.95"/>
<circle cx="306.1" cy="183.7" r="2.95"/>
<circle cx="306.2" cy="181.0" r="2.95"/>
<circle cx="306.4" cy="181.1" r="2.95"/>
<circle cx="306.4" cy="175.6" r="2.95"/>
<circle cx="305.8" cy="178.6" r="2.95"/>
<circle cx="306.5" cy="181.6" r="2.95"/>
<circle cx="306.8" cy="183.6" r="2.95"/>
<circle cx="306.9" cy="182.5" r="2.95"/>
<circle cx="307.1" cy="181.6" r="2.95"/>
<circle cx="307.4" cy="181.5" r="2.95"/>
<circle cx="307.7" cy="183.6" r="2.95"/>
<circle cx="308.0" cy="183.5" r="2.95"/>
</g>
</g>
<circle cx="308.1" cy="256.7" r="103.20" fill="none" stroke="#FF1A1A" stroke-width="1.7"/>
<circle cx="308.1" cy="256.7" r="203.85" fill="none" stroke="#A52A2A" stroke-width="1.55"/>
<rect x="53.5" y="2.1" width="509.5" height="509.25" fill="none" stroke="#3A3A3A" stroke-width="1.45"/>
<g font-family="Liberation Sans, Arial, sans-serif" font-size="13.8" fill="#4D4D4D" stroke="#4D4D4D" stroke-width="0.25">
<line x1="49.5" x2="53.5" y1="64.75" y2="64.75" stroke="#3A3A3A" stroke-width="1.45"/>
<text x="45.3" y="70.05" text-anchor="end">5.0</text>
<line x1="49.5" x2="53.5" y1="124.73" y2="124.73" stroke="#3A3A3A" stroke-width="1.45"/>
<text x="45.3" y="130.03" text-anchor="end">2.5</text>
<line x1="49.5" x2="53.5" y1="184.72" y2="184.72" stroke="#3A3A3A" stroke-width="1.45"/>
<text x="45.3" y="190.02" text-anchor="end">0.0</text>
<line x1="49.5" x2="53.5" y1="244.70" y2="244.70" stroke="#3A3A3A" stroke-width="1.45"/>
<text x="45.3" y="250.00" text-anchor="end">-2.5</text>
<text x="307.8" y="32.8" text-anchor="middle">0</text>
<text x="259.65" y="37.6" text-anchor="middle">16000</text>
<text x="537.2" y="249.8" text-anchor="middle">4000</text>
<text x="332.9" y="490.3" text-anchor="middle">8000</text>
<text x="81.7" y="299.3" text-anchor="middle">12000</text>
</g>
<g font-family="Liberation Sans, Arial, sans-serif" font-size="17.1" fill="#000" stroke="#000" stroke-width="0.2">
<text x="307.0" y="539.1" text-anchor="middle">Mitochondrial Base-Pair Location</text>
<text transform="translate(15.2,257) rotate(-90)" text-anchor="middle">-log(p-value)</text>
<text x="589" y="44.7">Location</text>
</g>
<g font-family="Liberation Sans, Arial, sans-serif" font-size="14" font-style="italic" fill="#000" stroke-width="0.2">
<line x1="590.9" x2="612.9" y1="68.30" y2="68.30" stroke="#668B8B" stroke-width="1.7"/>
<circle cx="602.0" cy="68.30" r="2.95" fill="#668B8B"/>
<text x="624" y="73.40" stroke="#000">D-loop</text>
<line x1="590.9" x2="612.9" y1="95.03" y2="95.03" stroke="#8C1E9B" stroke-width="1.7"/>
<circle cx="602.0" cy="95.03" r="2.95" fill="#8C1E9B"/>
<text x="624" y="100.13" stroke="#000" letter-spacing="0.22">MT-ATP6</text>
<line x1="590.9" x2="612.9" y1="121.76" y2="121.76" stroke="#7DDDB1" stroke-width="1.7"/>
<circle cx="602.0" cy="121.76" r="2.95" fill="#7DDDB1"/>
<text x="624" y="126.86" stroke="#000" letter-spacing="0.22">MT-ATP8</text>
<line x1="590.9" x2="612.9" y1="148.49" y2="148.49" stroke="#8B4726" stroke-width="1.7"/>
<circle cx="602.0" cy="148.49" r="2.95" fill="#8B4726"/>
<text x="624" y="153.59" stroke="#000">MT-CO1</text>
<line x1="590.9" x2="612.9" y1="175.22" y2="175.22" stroke="#FF30F5" stroke-width="1.7"/>
<circle cx="602.0" cy="175.22" r="2.95" fill="#FF30F5"/>
<text x="624" y="180.32" stroke="#000">MT-CO2</text>
<line x1="590.9" x2="612.9" y1="201.95" y2="201.95" stroke="#2200FF" stroke-width="1.7"/>
<circle cx="602.0" cy="201.95" r="2.95" fill="#2200FF"/>
<text x="624" y="207.05" stroke="#000">MT-CO3</text>
<line x1="590.9" x2="612.9" y1="228.68" y2="228.68" stroke="#6B8E23" stroke-width="1.7"/>
<circle cx="602.0" cy="228.68" r="2.95" fill="#6B8E23"/>
<text x="624" y="233.78" stroke="#000">MT-CYB</text>
<line x1="590.9" x2="612.9" y1="255.41" y2="255.41" stroke="#E2A030" stroke-width="1.7"/>
<circle cx="602.0" cy="255.41" r="2.95" fill="#E2A030"/>
<text x="624" y="260.51" stroke="#000">MT-ND1</text>
<line x1="590.9" x2="612.9" y1="282.14" y2="282.14" stroke="#844494" stroke-width="1.7"/>
<circle cx="602.0" cy="282.14" r="2.95" fill="#844494"/>
<text x="624" y="287.24" stroke="#000">MT-ND2</text>
<line x1="590.9" x2="612.9" y1="308.87" y2="308.87" stroke="#D21E14" stroke-width="1.7"/>
<circle cx="602.0" cy="308.87" r="2.95" fill="#D21E14"/>
<text x="624" y="313.97" stroke="#000">MT-ND3</text>
<line x1="590.9" x2="612.9" y1="335.60" y2="335.60" stroke="#4F78FF" stroke-width="1.7"/>
<circle cx="602.0" cy="335.60" r="2.95" fill="#4F78FF"/>
<text x="624" y="340.70" stroke="#000">MT-ND4</text>
<line x1="590.9" x2="612.9" y1="362.33" y2="362.33" stroke="#559655" stroke-width="1.7"/>
<circle cx="602.0" cy="362.33" r="2.95" fill="#559655"/>
<text x="624" y="367.43" stroke="#000">MT-ND4L</text>
<line x1="590.9" x2="612.9" y1="389.06" y2="389.06" stroke="#000000" stroke-width="1.7"/>
<circle cx="602.0" cy="389.06" r="2.95" fill="#000000"/>
<text x="624" y="394.16" stroke="#000">MT-ND5</text>
<line x1="590.9" x2="612.9" y1="415.79" y2="415.79" stroke="#8B6676" stroke-width="1.7"/>
<circle cx="602.0" cy="415.79" r="2.95" fill="#8B6676"/>
<text x="624" y="420.89" stroke="#000">MT-ND6</text>
<line x1="590.9" x2="612.9" y1="442.52" y2="442.52" stroke="#8B961E" stroke-width="1.7"/>
<circle cx="602.0" cy="442.52" r="2.95" fill="#8B961E"/>
<text x="624" y="447.62" stroke="#000">MT-rRNA</text>
<line x1="590.9" x2="612.9" y1="469.25" y2="469.25" stroke="#3C678F" stroke-width="1.7"/>
<circle cx="602.0" cy="469.25" r="2.95" fill="#3C678F"/>
<text x="624" y="474.35" stroke="#000">MT-tRNA</text>
</g>
</svg>
</body></html>
